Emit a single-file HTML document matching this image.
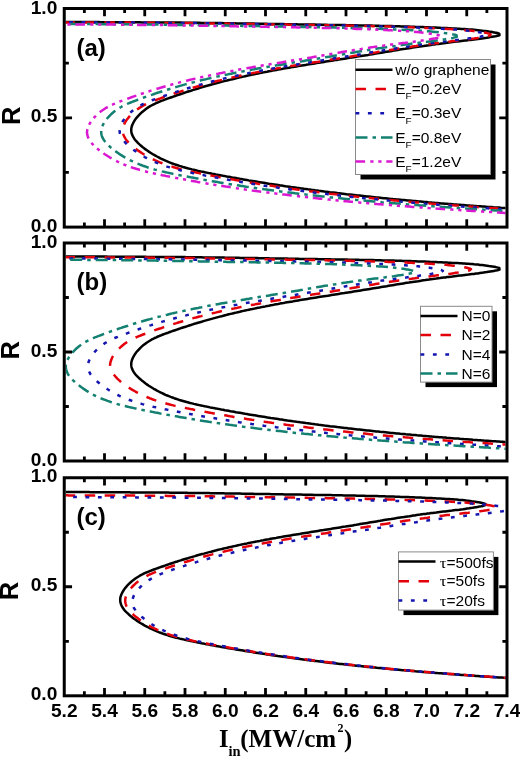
<!DOCTYPE html>
<html><head><meta charset="utf-8"><style>html,body{margin:0;padding:0;background:#fff;}svg{display:block;}</style></head>
<body><svg width="520" height="757" viewBox="0 0 520 757">
<rect width="520" height="757" fill="#fff"/>
<defs>
<clipPath id="c0"><rect x="65.75" y="10.0" width="439.75" height="215.6"/></clipPath>
<clipPath id="c1"><rect x="65.75" y="244.5" width="439.75" height="215.0"/></clipPath>
<clipPath id="c2"><rect x="65.75" y="479.25" width="439.75" height="215.04999999999995"/></clipPath>
</defs>
<g clip-path="url(#c0)" fill="none" stroke-width="2.5" stroke-linejoin="round">
<path d="M44.7,21.9 L46.5,21.9 L48.4,21.9 L50.2,22.0 L52.1,22.0 L54.0,22.0 L55.8,22.0 L57.7,22.0 L59.5,22.0 L61.4,22.0 L63.3,22.0 L65.1,22.0 L67.0,22.0 L68.9,22.0 L70.7,22.0 L72.6,22.0 L74.5,22.1 L76.3,22.1 L78.2,22.1 L80.1,22.1 L81.9,22.1 L83.8,22.1 L85.7,22.1 L87.5,22.1 L89.4,22.1 L91.3,22.1 L93.1,22.1 L95.0,22.1 L96.9,22.1 L98.7,22.1 L100.6,22.2 L102.5,22.2 L104.4,22.2 L106.2,22.2 L108.1,22.2 L110.0,22.2 L111.8,22.2 L113.7,22.2 L115.6,22.2 L117.4,22.2 L119.3,22.2 L121.2,22.2 L123.1,22.3 L124.9,22.3 L126.8,22.3 L128.7,22.3 L130.5,22.3 L132.4,22.3 L134.3,22.3 L136.1,22.3 L138.0,22.3 L139.9,22.3 L141.8,22.4 L143.6,22.4 L145.5,22.4 L147.4,22.4 L149.2,22.4 L151.1,22.4 L153.0,22.4 L154.8,22.4 L156.7,22.5 L158.6,22.5 L160.4,22.5 L162.3,22.5 L164.2,22.5 L166.0,22.5 L167.9,22.5 L169.8,22.6 L171.6,22.6 L173.5,22.6 L175.4,22.6 L177.2,22.6 L179.1,22.6 L181.0,22.6 L182.8,22.7 L184.7,22.7 L186.6,22.7 L188.4,22.7 L190.3,22.7 L192.2,22.8 L194.0,22.8 L195.9,22.8 L197.7,22.8 L199.6,22.8 L201.5,22.9 L203.3,22.9 L205.2,22.9 L207.1,22.9 L208.9,23.0 L210.8,23.0 L212.6,23.0 L214.5,23.0 L216.3,23.1 L218.2,23.1 L220.1,23.1 L221.9,23.1 L223.8,23.2 L225.6,23.2 L227.5,23.2 L229.3,23.2 L231.2,23.3 L233.1,23.3 L234.9,23.3 L236.8,23.4 L238.6,23.4 L240.5,23.4 L242.3,23.4 L244.2,23.5 L246.1,23.5 L247.9,23.5 L249.8,23.6 L251.6,23.6 L253.5,23.6 L255.3,23.7 L257.2,23.7 L259.1,23.7 L260.9,23.8 L262.8,23.8 L264.6,23.8 L266.5,23.8 L268.3,23.9 L270.2,23.9 L272.1,23.9 L273.9,24.0 L275.8,24.0 L277.7,24.0 L279.5,24.1 L281.4,24.1 L283.2,24.1 L285.1,24.2 L287.0,24.2 L288.8,24.2 L290.7,24.3 L292.6,24.3 L294.4,24.3 L296.3,24.3 L298.2,24.4 L300.1,24.4 L301.9,24.4 L303.8,24.5 L305.7,24.5 L307.5,24.5 L309.4,24.6 L311.3,24.6 L313.2,24.6 L315.0,24.6 L316.9,24.7 L318.8,24.7 L320.7,24.7 L322.5,24.8 L324.4,24.8 L326.3,24.8 L328.2,24.9 L330.1,24.9 L331.9,24.9 L333.8,24.9 L335.7,25.0 L337.6,25.0 L339.4,25.0 L341.3,25.1 L343.2,25.1 L345.1,25.1 L347.0,25.2 L348.8,25.2 L350.7,25.2 L352.6,25.3 L354.5,25.3 L356.3,25.3 L358.2,25.4 L360.1,25.4 L362.0,25.5 L363.8,25.5 L365.7,25.5 L367.6,25.6 L369.5,25.6 L371.3,25.6 L373.2,25.7 L375.1,25.7 L376.9,25.8 L378.8,25.8 L380.7,25.9 L382.6,25.9 L384.4,25.9 L386.3,26.0 L388.1,26.0 L390.0,26.1 L391.9,26.1 L393.7,26.2 L395.6,26.2 L397.4,26.3 L399.3,26.3 L401.1,26.4 L403.0,26.4 L404.9,26.5 L406.7,26.6 L408.5,26.6 L410.4,26.7 L412.2,26.7 L414.1,26.8 L415.9,26.9 L417.8,26.9 L419.6,27.0 L421.4,27.1 L423.3,27.1 L425.1,27.2 L426.9,27.3 L428.8,27.3 L430.6,27.4 L432.4,27.5 L434.2,27.6 L436.0,27.6 L437.9,27.7 L439.7,27.8 L441.5,27.9 L443.3,28.0 L445.1,28.0 L446.9,28.1 L448.7,28.2 L450.5,28.3 L452.3,28.4 L454.1,28.5 L455.9,28.6 L457.7,28.7 L459.5,28.8 L461.2,28.9 L463.0,29.0 L464.8,29.1 L466.6,29.2 L468.5,29.4 L470.3,29.5 L472.2,29.6 L474.1,29.8 L476.0,30.0 L478.0,30.2 L480.1,30.4 L482.2,30.7 L483.8,30.9 L485.4,31.1 L487.1,31.3 L488.8,31.6 L490.5,31.8 L492.3,32.1 L494.1,32.4 L495.8,32.7 L497.8,33.1 L499.3,33.6 L499.5,35.2 L497.5,35.7 L495.5,36.2 L493.8,36.5 L492.0,36.8 L490.2,37.1 L488.5,37.4 L486.8,37.7 L485.1,37.9 L483.5,38.2 L481.9,38.4 L479.9,38.7 L477.9,39.0 L475.9,39.2 L474.0,39.5 L472.1,39.7 L470.3,39.9 L468.4,40.1 L466.6,40.4 L464.9,40.6 L463.1,40.8 L461.3,41.0 L459.6,41.2 L457.8,41.4 L456.1,41.6 L454.3,41.8 L452.5,42.0 L450.7,42.3 L448.9,42.5 L447.2,42.7 L445.4,42.9 L443.6,43.2 L441.8,43.4 L440.0,43.7 L438.2,43.9 L436.3,44.1 L434.5,44.4 L432.7,44.6 L430.9,44.9 L429.1,45.2 L427.2,45.4 L425.4,45.7 L423.6,46.0 L421.8,46.2 L419.9,46.5 L418.1,46.8 L416.3,47.0 L414.4,47.3 L412.6,47.6 L410.7,47.9 L408.9,48.2 L407.0,48.5 L405.2,48.8 L403.4,49.0 L401.5,49.3 L399.7,49.6 L397.8,49.9 L396.0,50.2 L394.1,50.5 L392.3,50.9 L390.4,51.2 L388.6,51.5 L386.7,51.8 L384.9,52.1 L383.0,52.4 L381.2,52.7 L379.3,53.0 L377.5,53.3 L375.7,53.6 L373.8,53.9 L372.0,54.2 L370.1,54.5 L368.3,54.9 L366.4,55.2 L364.6,55.5 L362.7,55.8 L360.9,56.1 L359.0,56.3 L357.2,56.6 L355.3,56.9 L353.5,57.2 L351.7,57.5 L349.8,57.8 L348.0,58.1 L346.1,58.4 L344.3,58.7 L342.4,59.0 L340.6,59.3 L338.7,59.6 L336.9,59.9 L335.1,60.1 L333.2,60.4 L331.4,60.7 L329.5,61.0 L327.7,61.3 L325.8,61.6 L324.0,61.9 L322.2,62.2 L320.3,62.5 L318.5,62.8 L316.6,63.1 L314.8,63.4 L313.0,63.7 L311.1,64.0 L309.3,64.2 L307.4,64.6 L305.6,64.9 L303.8,65.2 L301.9,65.5 L300.1,65.8 L298.3,66.1 L296.4,66.4 L294.6,66.7 L292.8,67.0 L290.9,67.3 L289.1,67.7 L287.2,68.0 L285.4,68.3 L283.6,68.6 L281.7,69.0 L279.9,69.3 L278.1,69.6 L276.3,70.0 L274.4,70.3 L272.6,70.6 L270.8,71.0 L268.9,71.3 L267.1,71.7 L265.3,72.0 L263.5,72.4 L261.6,72.8 L259.8,73.1 L258.0,73.5 L256.1,73.9 L254.3,74.3 L252.5,74.6 L250.7,75.0 L248.9,75.4 L247.0,75.8 L245.2,76.2 L243.4,76.6 L241.6,77.0 L239.8,77.4 L237.9,77.9 L236.1,78.3 L234.3,78.7 L232.5,79.2 L230.7,79.6 L228.8,80.0 L227.0,80.5 L225.2,80.9 L223.4,81.4 L221.6,81.9 L219.8,82.3 L218.0,82.8 L216.2,83.3 L214.3,83.8 L212.5,84.3 L210.7,84.8 L208.9,85.3 L207.1,85.8 L205.3,86.3 L203.5,86.8 L201.7,87.4 L199.9,87.9 L198.1,88.5 L196.3,89.0 L194.5,89.6 L192.7,90.1 L190.9,90.7 L189.2,91.2 L187.4,91.8 L185.6,92.4 L183.8,93.0 L182.1,93.6 L180.3,94.2 L178.6,94.8 L176.8,95.3 L175.1,96.0 L173.3,96.6 L171.6,97.2 L169.9,97.8 L168.2,98.4 L166.4,99.0 L164.7,99.6 L163.0,100.3 L161.4,100.9 L159.7,101.6 L158.0,102.3 L156.3,103.0 L154.7,103.8 L153.1,104.6 L151.4,105.5 L149.8,106.4 L148.2,107.4 L146.6,108.5 L145.0,109.7 L143.5,110.9 L141.9,112.2 L140.4,113.6 L139.0,115.1 L137.6,116.6 L136.3,118.1 L135.1,119.7 L134.1,121.4 L133.2,123.0 L132.4,124.7 L131.8,126.3 L131.4,128.0 L131.2,129.6 L131.3,131.3 L131.5,132.9 L132.0,134.4 L132.7,135.9 L133.5,137.4 L134.4,138.9 L135.5,140.3 L136.8,141.7 L138.1,143.1 L139.5,144.4 L141.0,145.7 L142.5,147.0 L144.1,148.2 L145.6,149.4 L147.2,150.5 L148.8,151.6 L150.5,152.7 L152.1,153.7 L153.7,154.7 L155.4,155.6 L157.0,156.5 L158.7,157.4 L160.4,158.3 L162.1,159.1 L163.8,159.9 L165.5,160.7 L167.2,161.4 L168.9,162.1 L170.7,162.8 L172.4,163.5 L174.2,164.1 L175.9,164.7 L177.7,165.3 L179.5,165.9 L181.2,166.4 L183.0,167.0 L184.8,167.5 L186.6,168.0 L188.4,168.5 L190.2,168.9 L192.0,169.4 L193.8,169.8 L195.6,170.2 L197.4,170.7 L199.3,171.1 L201.1,171.5 L202.9,171.8 L204.7,172.2 L206.6,172.6 L208.4,173.0 L210.2,173.3 L212.1,173.7 L213.9,174.0 L215.7,174.4 L217.6,174.7 L219.4,175.1 L221.2,175.4 L223.1,175.8 L224.9,176.1 L226.7,176.5 L228.6,176.8 L230.4,177.1 L232.2,177.5 L234.1,177.8 L235.9,178.1 L237.7,178.4 L239.6,178.8 L241.4,179.1 L243.3,179.4 L245.1,179.7 L246.9,180.0 L248.8,180.4 L250.6,180.7 L252.4,181.0 L254.3,181.3 L256.1,181.6 L258.0,181.9 L259.8,182.2 L261.6,182.5 L263.5,182.8 L265.3,183.1 L267.2,183.4 L269.0,183.7 L270.9,183.9 L272.7,184.2 L274.5,184.5 L276.4,184.8 L278.2,185.1 L280.1,185.4 L281.9,185.6 L283.8,185.9 L285.6,186.2 L287.4,186.4 L289.3,186.7 L291.1,187.0 L293.0,187.2 L294.8,187.5 L296.7,187.8 L298.5,188.0 L300.4,188.3 L302.2,188.5 L304.1,188.8 L305.9,189.0 L307.8,189.3 L309.6,189.5 L311.4,189.8 L313.3,190.0 L315.1,190.3 L317.0,190.5 L318.8,190.8 L320.7,191.0 L322.5,191.2 L324.4,191.5 L326.2,191.7 L328.1,191.9 L329.9,192.2 L331.8,192.4 L333.6,192.6 L335.5,192.8 L337.3,193.1 L339.2,193.3 L341.0,193.5 L342.9,193.7 L344.7,193.9 L346.6,194.2 L348.4,194.4 L350.3,194.6 L352.2,194.8 L354.0,195.0 L355.9,195.2 L357.7,195.4 L359.6,195.6 L361.4,195.8 L363.3,196.0 L365.1,196.2 L367.0,196.4 L368.8,196.6 L370.7,196.8 L372.5,197.0 L374.4,197.2 L376.2,197.4 L378.1,197.6 L380.0,197.8 L381.8,198.0 L383.7,198.2 L385.5,198.3 L387.4,198.5 L389.2,198.7 L391.1,198.9 L392.9,199.1 L394.8,199.2 L396.7,199.4 L398.5,199.6 L400.4,199.8 L402.2,200.0 L404.1,200.1 L405.9,200.3 L407.8,200.5 L409.7,200.6 L411.5,200.8 L413.4,201.0 L415.2,201.1 L417.1,201.3 L418.9,201.5 L420.8,201.6 L422.7,201.8 L424.5,202.0 L426.4,202.1 L428.2,202.3 L430.1,202.4 L432.0,202.6 L433.8,202.7 L435.7,202.9 L437.5,203.0 L439.4,203.2 L441.3,203.4 L443.1,203.5 L445.0,203.7 L446.8,203.8 L448.7,204.0 L450.6,204.1 L452.4,204.2 L454.3,204.4 L456.1,204.5 L458.0,204.7 L459.9,204.8 L461.7,205.0 L463.6,205.1 L465.4,205.2 L467.3,205.4 L469.2,205.5 L471.0,205.7 L472.9,205.8 L474.7,205.9 L476.6,206.1 L478.5,206.2 L480.3,206.3 L482.2,206.5 L484.0,206.6 L485.9,206.7 L487.8,206.9 L489.6,207.0 L491.5,207.1 L493.4,207.3 L495.2,207.4 L497.1,207.5 L498.9,207.6 L500.8,207.8 L502.7,207.9 L504.5,208.0 L506.4,208.1 L508.3,208.3 L510.1,208.4 L512.0,208.5 L513.8,208.6 L515.7,208.8 L517.6,208.9 L519.4,209.0 L521.3,209.1 L523.2,209.2 L525.0,209.4 L526.9,209.5 L526.9,209.5" stroke="#000000"/>
<path d="M44.4,22.3 L46.3,22.3 L48.1,22.3 L50.0,22.3 L51.8,22.3 L53.7,22.3 L55.5,22.3 L57.4,22.3 L59.2,22.3 L61.1,22.3 L62.9,22.3 L64.8,22.4 L66.6,22.4 L68.5,22.4 L70.3,22.4 L72.2,22.4 L74.1,22.4 L75.9,22.4 L77.8,22.4 L79.6,22.4 L81.5,22.4 L83.3,22.4 L85.2,22.4 L87.1,22.4 L88.9,22.4 L90.8,22.5 L92.6,22.5 L94.5,22.5 L96.3,22.5 L98.2,22.5 L100.1,22.5 L101.9,22.5 L103.8,22.5 L105.6,22.5 L107.5,22.5 L109.3,22.5 L111.2,22.5 L113.1,22.6 L114.9,22.6 L116.8,22.6 L118.6,22.6 L120.5,22.6 L122.4,22.6 L124.2,22.6 L126.1,22.6 L127.9,22.6 L129.8,22.6 L131.7,22.7 L133.5,22.7 L135.4,22.7 L137.2,22.7 L139.1,22.7 L140.9,22.7 L142.8,22.7 L144.7,22.7 L146.5,22.7 L148.4,22.8 L150.2,22.8 L152.1,22.8 L153.9,22.8 L155.8,22.8 L157.7,22.8 L159.5,22.8 L161.4,22.9 L163.2,22.9 L165.1,22.9 L166.9,22.9 L168.8,22.9 L170.6,22.9 L172.5,22.9 L174.3,23.0 L176.2,23.0 L178.1,23.0 L179.9,23.0 L181.8,23.0 L183.6,23.1 L185.5,23.1 L187.3,23.1 L189.2,23.1 L191.0,23.1 L192.9,23.2 L194.7,23.2 L196.6,23.2 L198.4,23.2 L200.3,23.3 L202.1,23.3 L203.9,23.3 L205.8,23.3 L207.6,23.4 L209.5,23.4 L211.3,23.4 L213.2,23.4 L215.0,23.5 L216.9,23.5 L218.7,23.5 L220.6,23.5 L222.4,23.6 L224.2,23.6 L226.1,23.6 L227.9,23.7 L229.8,23.7 L231.6,23.7 L233.5,23.7 L235.3,23.8 L237.2,23.8 L239.0,23.8 L240.9,23.9 L242.7,23.9 L244.5,23.9 L246.4,23.9 L248.2,24.0 L250.1,24.0 L251.9,24.0 L253.8,24.1 L255.6,24.1 L257.5,24.1 L259.3,24.2 L261.2,24.2 L263.0,24.2 L264.9,24.3 L266.7,24.3 L268.6,24.3 L270.4,24.4 L272.3,24.4 L274.1,24.4 L276.0,24.4 L277.8,24.5 L279.7,24.5 L281.5,24.5 L283.4,24.6 L285.2,24.6 L287.1,24.6 L288.9,24.7 L290.8,24.7 L292.7,24.7 L294.5,24.8 L296.4,24.8 L298.2,24.8 L300.1,24.8 L302.0,24.9 L303.8,24.9 L305.7,24.9 L307.6,25.0 L309.4,25.0 L311.3,25.0 L313.1,25.1 L315.0,25.1 L316.9,25.1 L318.7,25.1 L320.6,25.2 L322.5,25.2 L324.3,25.2 L326.2,25.3 L328.1,25.3 L329.9,25.3 L331.8,25.4 L333.7,25.4 L335.5,25.4 L337.4,25.5 L339.3,25.5 L341.1,25.5 L343.0,25.6 L344.9,25.6 L346.7,25.6 L348.6,25.7 L350.5,25.7 L352.3,25.7 L354.2,25.8 L356.0,25.8 L357.9,25.9 L359.8,25.9 L361.6,25.9 L363.5,26.0 L365.3,26.0 L367.2,26.1 L369.1,26.1 L370.9,26.1 L372.8,26.2 L374.6,26.2 L376.5,26.3 L378.3,26.3 L380.2,26.4 L382.0,26.4 L383.9,26.5 L385.7,26.5 L387.6,26.6 L389.4,26.6 L391.3,26.7 L393.1,26.7 L394.9,26.8 L396.8,26.8 L398.6,26.9 L400.4,27.0 L402.3,27.0 L404.1,27.1 L405.9,27.1 L407.8,27.2 L409.6,27.3 L411.4,27.3 L413.2,27.4 L415.1,27.5 L416.9,27.5 L418.7,27.6 L420.5,27.7 L422.3,27.7 L424.1,27.8 L425.9,27.9 L427.7,28.0 L429.5,28.1 L431.3,28.1 L433.1,28.2 L434.9,28.3 L436.7,28.4 L438.5,28.5 L440.3,28.6 L442.1,28.7 L443.9,28.7 L445.7,28.8 L447.4,28.9 L449.2,29.0 L451.0,29.1 L452.7,29.2 L454.5,29.3 L456.3,29.5 L458.1,29.6 L459.9,29.7 L461.8,29.8 L463.6,30.0 L465.5,30.2 L467.5,30.4 L469.5,30.6 L471.5,30.8 L473.6,31.0 L475.2,31.3 L476.8,31.5 L478.5,31.7 L480.2,32.0 L481.9,32.2 L483.7,32.5 L485.4,32.8 L487.0,33.1 L488.9,33.6 L490.6,34.1 L489.9,35.6 L488.2,36.1 L486.2,36.5 L484.5,36.8 L482.7,37.1 L480.9,37.4 L479.2,37.7 L477.5,38.0 L475.8,38.2 L474.2,38.5 L472.1,38.8 L470.1,39.1 L468.1,39.3 L466.2,39.6 L464.3,39.8 L462.4,40.1 L460.6,40.3 L458.8,40.5 L457.0,40.7 L455.2,40.9 L453.5,41.1 L451.7,41.3 L450.0,41.6 L448.2,41.8 L446.4,42.0 L444.7,42.2 L442.9,42.4 L441.1,42.6 L439.3,42.9 L437.6,43.1 L435.8,43.3 L434.0,43.6 L432.2,43.8 L430.4,44.0 L428.6,44.3 L426.8,44.5 L425.0,44.8 L423.2,45.0 L421.3,45.3 L419.5,45.5 L417.7,45.8 L415.9,46.1 L414.1,46.3 L412.2,46.6 L410.4,46.9 L408.6,47.1 L406.7,47.4 L404.9,47.7 L403.1,48.0 L401.2,48.3 L399.4,48.5 L397.6,48.8 L395.7,49.1 L393.9,49.4 L392.1,49.7 L390.2,50.0 L388.4,50.3 L386.5,50.6 L384.7,50.9 L382.8,51.2 L381.0,51.5 L379.2,51.8 L377.3,52.1 L375.5,52.5 L373.6,52.8 L371.8,53.1 L370.0,53.4 L368.1,53.7 L366.3,54.0 L364.4,54.3 L362.6,54.6 L360.8,54.9 L358.9,55.2 L357.1,55.5 L355.2,55.8 L353.4,56.1 L351.6,56.4 L349.7,56.7 L347.9,57.0 L346.0,57.3 L344.2,57.6 L342.4,57.9 L340.5,58.2 L338.7,58.5 L336.8,58.8 L335.0,59.1 L333.2,59.3 L331.3,59.6 L329.5,59.9 L327.7,60.2 L325.8,60.5 L324.0,60.8 L322.1,61.1 L320.3,61.4 L318.5,61.7 L316.6,61.9 L314.8,62.2 L313.0,62.5 L311.1,62.8 L309.3,63.1 L307.5,63.4 L305.6,63.7 L303.8,64.0 L302.0,64.3 L300.1,64.6 L298.3,64.9 L296.5,65.2 L294.6,65.5 L292.8,65.8 L291.0,66.1 L289.2,66.4 L287.3,66.7 L285.5,67.1 L283.7,67.4 L281.8,67.7 L280.0,68.0 L278.2,68.3 L276.4,68.6 L274.5,69.0 L272.7,69.3 L270.9,69.6 L269.1,70.0 L267.2,70.3 L265.4,70.7 L263.6,71.0 L261.8,71.3 L259.9,71.7 L258.1,72.0 L256.3,72.4 L254.5,72.8 L252.6,73.1 L250.8,73.5 L249.0,73.9 L247.2,74.2 L245.4,74.6 L243.5,75.0 L241.7,75.4 L239.9,75.8 L238.1,76.2 L236.3,76.6 L234.5,77.0 L232.7,77.4 L230.8,77.8 L229.0,78.2 L227.2,78.7 L225.4,79.1 L223.6,79.5 L221.8,80.0 L220.0,80.4 L218.2,80.8 L216.3,81.3 L214.5,81.8 L212.7,82.2 L210.9,82.7 L209.1,83.2 L207.3,83.7 L205.5,84.2 L203.7,84.7 L201.9,85.2 L200.1,85.7 L198.3,86.2 L196.5,86.7 L194.7,87.2 L192.9,87.7 L191.1,88.3 L189.3,88.8 L187.5,89.4 L185.7,89.9 L183.9,90.5 L182.1,91.0 L180.4,91.6 L178.6,92.2 L176.8,92.8 L175.1,93.3 L173.3,93.9 L171.5,94.5 L169.8,95.1 L168.0,95.7 L166.3,96.3 L164.6,96.9 L162.8,97.5 L161.1,98.1 L159.4,98.8 L157.7,99.4 L156.0,100.0 L154.3,100.6 L152.6,101.3 L150.9,102.0 L149.3,102.7 L147.6,103.4 L146.0,104.2 L144.3,105.0 L142.7,105.9 L141.1,106.9 L139.5,107.9 L137.9,109.0 L136.3,110.1 L134.7,111.4 L133.2,112.7 L131.7,114.1 L130.2,115.6 L128.9,117.1 L127.6,118.7 L126.4,120.3 L125.4,121.9 L124.5,123.6 L123.7,125.2 L123.2,126.9 L122.8,128.5 L122.6,130.2 L122.7,131.8 L123.0,133.3 L123.5,134.9 L124.1,136.4 L125.0,137.9 L125.9,139.4 L127.0,140.8 L128.3,142.2 L129.6,143.5 L131.0,144.8 L132.4,146.1 L133.9,147.4 L135.5,148.6 L137.0,149.7 L138.6,150.9 L140.1,151.9 L141.7,153.0 L143.3,154.0 L144.9,155.0 L146.6,155.9 L148.2,156.8 L149.9,157.7 L151.5,158.6 L153.2,159.4 L154.8,160.2 L156.5,160.9 L158.2,161.7 L159.9,162.4 L161.6,163.0 L163.4,163.7 L165.1,164.3 L166.8,164.9 L168.6,165.5 L170.3,166.1 L172.1,166.6 L173.8,167.2 L175.6,167.7 L177.3,168.2 L179.1,168.7 L180.9,169.1 L182.7,169.6 L184.5,170.0 L186.3,170.4 L188.1,170.8 L189.9,171.3 L191.7,171.6 L193.5,172.0 L195.3,172.4 L197.1,172.8 L198.9,173.1 L200.7,173.5 L202.5,173.9 L204.3,174.2 L206.1,174.6 L207.9,174.9 L209.8,175.3 L211.6,175.6 L213.4,176.0 L215.2,176.3 L217.0,176.6 L218.8,177.0 L220.6,177.3 L222.5,177.7 L224.3,178.0 L226.1,178.3 L227.9,178.6 L229.7,179.0 L231.5,179.3 L233.3,179.6 L235.2,179.9 L237.0,180.2 L238.8,180.6 L240.6,180.9 L242.4,181.2 L244.2,181.5 L246.1,181.8 L247.9,182.1 L249.7,182.4 L251.5,182.7 L253.3,183.0 L255.2,183.3 L257.0,183.6 L258.8,183.9 L260.6,184.1 L262.4,184.4 L264.3,184.7 L266.1,185.0 L267.9,185.3 L269.7,185.5 L271.6,185.8 L273.4,186.1 L275.2,186.4 L277.0,186.6 L278.9,186.9 L280.7,187.2 L282.5,187.4 L284.3,187.7 L286.2,187.9 L288.0,188.2 L289.8,188.5 L291.6,188.7 L293.5,189.0 L295.3,189.2 L297.1,189.5 L298.9,189.7 L300.8,190.0 L302.6,190.2 L304.4,190.4 L306.2,190.7 L308.1,190.9 L309.9,191.2 L311.7,191.4 L313.6,191.6 L315.4,191.9 L317.2,192.1 L319.0,192.3 L320.9,192.5 L322.7,192.8 L324.5,193.0 L326.4,193.2 L328.2,193.4 L330.0,193.7 L331.9,193.9 L333.7,194.1 L335.5,194.3 L337.4,194.5 L339.2,194.7 L341.0,194.9 L342.8,195.1 L344.7,195.3 L346.5,195.6 L348.3,195.8 L350.2,196.0 L352.0,196.2 L353.8,196.4 L355.7,196.6 L357.5,196.8 L359.3,196.9 L361.2,197.1 L363.0,197.3 L364.8,197.5 L366.7,197.7 L368.5,197.9 L370.4,198.1 L372.2,198.3 L374.0,198.5 L375.9,198.6 L377.7,198.8 L379.5,199.0 L381.4,199.2 L383.2,199.4 L385.0,199.5 L386.9,199.7 L388.7,199.9 L390.6,200.1 L392.4,200.2 L394.2,200.4 L396.1,200.6 L397.9,200.7 L399.7,200.9 L401.6,201.1 L403.4,201.2 L405.3,201.4 L407.1,201.6 L408.9,201.7 L410.8,201.9 L412.6,202.1 L414.4,202.2 L416.3,202.4 L418.1,202.5 L420.0,202.7 L421.8,202.8 L423.6,203.0 L425.5,203.1 L427.3,203.3 L429.2,203.4 L431.0,203.6 L432.8,203.7 L434.7,203.9 L436.5,204.0 L438.4,204.2 L440.2,204.3 L442.0,204.5 L443.9,204.6 L445.7,204.8 L447.6,204.9 L449.4,205.0 L451.3,205.2 L453.1,205.3 L454.9,205.5 L456.8,205.6 L458.6,205.7 L460.5,205.9 L462.3,206.0 L464.1,206.1 L466.0,206.3 L467.8,206.4 L469.7,206.5 L471.5,206.7 L473.4,206.8 L475.2,206.9 L477.0,207.1 L478.9,207.2 L480.7,207.3 L482.6,207.4 L484.4,207.6 L486.2,207.7 L488.1,207.8 L489.9,208.0 L491.8,208.1 L493.6,208.2 L495.5,208.3 L497.3,208.4 L499.1,208.6 L501.0,208.7 L502.8,208.8 L504.7,208.9 L506.5,209.1 L508.4,209.2 L510.2,209.3 L512.0,209.4 L513.9,209.5 L515.7,209.7 L517.6,209.8 L519.4,209.9 L521.3,210.0 L523.1,210.1 L524.9,210.2 L526.8,210.4 L526.8,210.4" stroke="#e3000b" stroke-dasharray="10.5 9.5"/>
<path d="M44.3,22.2 L46.1,22.2 L47.9,22.2 L49.8,22.2 L51.6,22.2 L53.5,22.2 L55.3,22.2 L57.2,22.2 L59.0,22.2 L60.9,22.2 L62.7,22.3 L64.6,22.3 L66.4,22.3 L68.3,22.3 L70.1,22.3 L72.0,22.3 L73.8,22.3 L75.7,22.3 L77.5,22.3 L79.4,22.3 L81.2,22.3 L83.1,22.3 L84.9,22.3 L86.8,22.3 L88.6,22.4 L90.5,22.4 L92.3,22.4 L94.2,22.4 L96.0,22.4 L97.9,22.4 L99.8,22.4 L101.6,22.4 L103.5,22.4 L105.3,22.4 L107.2,22.4 L109.0,22.4 L110.9,22.5 L112.7,22.5 L114.6,22.5 L116.4,22.5 L118.3,22.5 L120.1,22.5 L122.0,22.5 L123.8,22.5 L125.7,22.5 L127.6,22.5 L129.4,22.6 L131.3,22.6 L133.1,22.6 L135.0,22.6 L136.8,22.6 L138.7,22.6 L140.5,22.6 L142.4,22.6 L144.2,22.6 L146.1,22.7 L147.9,22.7 L149.8,22.7 L151.6,22.7 L153.5,22.7 L155.3,22.7 L157.2,22.7 L159.0,22.8 L160.9,22.8 L162.7,22.8 L164.6,22.8 L166.4,22.8 L168.3,22.8 L170.1,22.9 L172.0,22.9 L173.8,22.9 L175.7,22.9 L177.5,22.9 L179.4,22.9 L181.2,23.0 L183.1,23.0 L184.9,23.0 L186.7,23.0 L188.6,23.0 L190.4,23.1 L192.3,23.1 L194.1,23.1 L196.0,23.1 L197.8,23.2 L199.7,23.2 L201.5,23.2 L203.3,23.2 L205.2,23.3 L207.0,23.3 L208.9,23.3 L210.7,23.3 L212.5,23.4 L214.4,23.4 L216.2,23.4 L218.1,23.4 L219.9,23.5 L221.7,23.5 L223.6,23.5 L225.4,23.6 L227.3,23.6 L229.1,23.6 L230.9,23.6 L232.8,23.7 L234.6,23.7 L236.4,23.7 L238.3,23.8 L240.1,23.8 L242.0,23.8 L243.8,23.9 L245.6,23.9 L247.5,23.9 L249.3,23.9 L251.2,24.0 L253.0,24.0 L254.9,24.0 L256.7,24.1 L258.5,24.1 L260.4,24.1 L262.2,24.2 L264.1,24.2 L265.9,24.2 L267.8,24.3 L269.6,24.3 L271.5,24.3 L273.3,24.4 L275.2,24.4 L277.0,24.4 L278.8,24.4 L280.7,24.5 L282.5,24.5 L284.4,24.5 L286.3,24.6 L288.1,24.6 L290.0,24.6 L291.8,24.7 L293.7,24.7 L295.5,24.7 L297.4,24.7 L299.2,24.8 L301.1,24.8 L303.0,24.8 L304.8,24.9 L306.7,24.9 L308.5,24.9 L310.4,25.0 L312.3,25.0 L314.1,25.0 L316.0,25.0 L317.8,25.1 L319.7,25.1 L321.6,25.1 L323.4,25.2 L325.3,25.2 L327.1,25.2 L329.0,25.3 L330.9,25.3 L332.7,25.3 L334.6,25.4 L336.4,25.4 L338.3,25.4 L340.2,25.5 L342.0,25.5 L343.9,25.5 L345.7,25.6 L347.6,25.6 L349.5,25.6 L351.3,25.7 L353.2,25.7 L355.0,25.8 L356.9,25.8 L358.7,25.8 L360.6,25.9 L362.4,25.9 L364.3,26.0 L366.1,26.0 L368.0,26.0 L369.8,26.1 L371.7,26.1 L373.5,26.2 L375.4,26.2 L377.2,26.3 L379.1,26.3 L380.9,26.4 L382.7,26.4 L384.6,26.5 L386.4,26.5 L388.3,26.6 L390.1,26.6 L391.9,26.7 L393.8,26.7 L395.6,26.8 L397.4,26.9 L399.2,26.9 L401.1,27.0 L402.9,27.0 L404.7,27.1 L406.5,27.2 L408.4,27.2 L410.2,27.3 L412.0,27.4 L413.8,27.4 L415.6,27.5 L417.4,27.6 L419.2,27.7 L421.0,27.7 L422.8,27.8 L424.6,27.9 L426.4,28.0 L428.2,28.1 L430.0,28.1 L431.8,28.2 L433.6,28.3 L435.4,28.4 L437.2,28.5 L438.9,28.6 L440.7,28.7 L442.5,28.8 L444.3,28.9 L446.0,29.0 L447.8,29.1 L449.6,29.2 L451.3,29.3 L453.1,29.4 L454.9,29.5 L456.7,29.6 L458.6,29.8 L460.5,30.0 L462.4,30.1 L464.3,30.3 L466.3,30.5 L468.4,30.8 L470.5,31.0 L472.1,31.3 L473.8,31.5 L475.4,31.7 L477.2,32.0 L478.9,32.3 L480.7,32.6 L482.3,32.9 L484.3,33.3 L485.9,33.7 L486.0,35.3 L484.0,35.9 L482.0,36.3 L480.3,36.7 L478.5,37.0 L476.8,37.3 L475.0,37.6 L473.4,37.8 L471.7,38.1 L470.1,38.3 L468.0,38.6 L466.0,38.9 L464.0,39.2 L462.1,39.4 L460.2,39.7 L458.3,39.9 L456.5,40.1 L454.7,40.4 L452.9,40.6 L451.1,40.8 L449.4,41.0 L447.6,41.2 L445.9,41.4 L444.1,41.6 L442.4,41.8 L440.6,42.0 L438.9,42.3 L437.1,42.5 L435.3,42.7 L433.5,42.9 L431.8,43.2 L430.0,43.4 L428.2,43.6 L426.4,43.9 L424.6,44.1 L422.8,44.4 L421.0,44.6 L419.2,44.9 L417.4,45.1 L415.6,45.4 L413.8,45.6 L411.9,45.9 L410.1,46.2 L408.3,46.4 L406.5,46.7 L404.6,47.0 L402.8,47.3 L401.0,47.5 L399.2,47.8 L397.3,48.1 L395.5,48.4 L393.7,48.7 L391.8,49.0 L390.0,49.3 L388.2,49.6 L386.3,49.9 L384.5,50.2 L382.7,50.5 L380.8,50.8 L379.0,51.1 L377.2,51.4 L375.3,51.7 L373.5,52.0 L371.6,52.3 L369.8,52.6 L368.0,52.9 L366.1,53.2 L364.3,53.5 L362.5,53.8 L360.6,54.2 L358.8,54.5 L357.0,54.8 L355.1,55.1 L353.3,55.4 L351.5,55.7 L349.6,56.0 L347.8,56.3 L346.0,56.6 L344.1,56.9 L342.3,57.2 L340.5,57.4 L338.6,57.7 L336.8,58.0 L335.0,58.3 L333.1,58.6 L331.3,58.9 L329.5,59.2 L327.6,59.5 L325.8,59.8 L324.0,60.1 L322.1,60.4 L320.3,60.6 L318.5,60.9 L316.6,61.2 L314.8,61.5 L313.0,61.8 L311.2,62.1 L309.3,62.4 L307.5,62.7 L305.7,63.0 L303.8,63.3 L302.0,63.6 L300.2,63.9 L298.4,64.2 L296.5,64.5 L294.7,64.8 L292.9,65.1 L291.1,65.4 L289.2,65.7 L287.4,66.0 L285.6,66.3 L283.8,66.6 L281.9,66.9 L280.1,67.2 L278.3,67.6 L276.5,67.9 L274.6,68.2 L272.8,68.5 L271.0,68.9 L269.2,69.2 L267.4,69.5 L265.5,69.9 L263.7,70.2 L261.9,70.5 L260.1,70.9 L258.3,71.2 L256.4,71.6 L254.6,71.9 L252.8,72.3 L251.0,72.7 L249.2,73.0 L247.4,73.4 L245.5,73.8 L243.7,74.1 L241.9,74.5 L240.1,74.9 L238.3,75.3 L236.5,75.7 L234.7,76.1 L232.9,76.5 L231.1,76.9 L229.2,77.3 L227.4,77.7 L225.6,78.1 L223.8,78.6 L222.0,79.0 L220.2,79.4 L218.4,79.9 L216.6,80.3 L214.8,80.8 L213.0,81.2 L211.2,81.7 L209.4,82.1 L207.6,82.6 L205.8,83.1 L204.0,83.6 L202.2,84.1 L200.4,84.6 L198.6,85.1 L196.8,85.6 L195.0,86.1 L193.2,86.6 L191.4,87.2 L189.6,87.7 L187.8,88.2 L186.0,88.8 L184.2,89.3 L182.4,89.9 L180.7,90.4 L178.9,91.0 L177.1,91.6 L175.3,92.2 L173.6,92.7 L171.8,93.3 L170.1,93.9 L168.3,94.5 L166.6,95.1 L164.8,95.7 L163.1,96.3 L161.4,96.9 L159.6,97.5 L157.9,98.1 L156.2,98.8 L154.5,99.4 L152.8,100.0 L151.1,100.7 L149.4,101.3 L147.8,102.0 L146.1,102.7 L144.5,103.5 L142.8,104.2 L141.2,105.1 L139.6,106.0 L138.0,106.9 L136.4,107.9 L134.8,109.0 L133.2,110.2 L131.6,111.5 L130.1,112.8 L128.6,114.2 L127.1,115.7 L125.8,117.2 L124.5,118.8 L123.3,120.4 L122.3,122.1 L121.4,123.7 L120.7,125.4 L120.1,127.1 L119.7,128.7 L119.6,130.4 L119.7,132.0 L119.9,133.6 L120.4,135.1 L121.1,136.7 L121.9,138.2 L122.9,139.6 L124.0,141.1 L125.2,142.5 L126.5,143.8 L127.9,145.2 L129.4,146.5 L130.9,147.7 L132.4,148.9 L133.9,150.1 L135.5,151.2 L137.1,152.3 L138.6,153.4 L140.2,154.4 L141.9,155.4 L143.5,156.3 L145.1,157.3 L146.7,158.1 L148.4,159.0 L150.1,159.8 L151.7,160.6 L153.4,161.4 L155.1,162.1 L156.8,162.8 L158.5,163.5 L160.2,164.2 L161.9,164.8 L163.7,165.4 L165.4,166.0 L167.1,166.6 L168.9,167.1 L170.7,167.6 L172.4,168.2 L174.2,168.6 L175.9,169.1 L177.7,169.6 L179.5,170.0 L181.3,170.5 L183.1,170.9 L184.9,171.3 L186.7,171.7 L188.5,172.1 L190.3,172.5 L192.1,172.9 L193.9,173.2 L195.7,173.6 L197.5,174.0 L199.3,174.3 L201.1,174.7 L202.9,175.0 L204.7,175.4 L206.5,175.7 L208.3,176.1 L210.1,176.4 L211.9,176.8 L213.7,177.1 L215.5,177.4 L217.4,177.8 L219.2,178.1 L221.0,178.4 L222.8,178.8 L224.6,179.1 L226.4,179.4 L228.2,179.7 L230.0,180.1 L231.8,180.4 L233.7,180.7 L235.5,181.0 L237.3,181.3 L239.1,181.6 L240.9,181.9 L242.7,182.2 L244.5,182.5 L246.4,182.8 L248.2,183.1 L250.0,183.4 L251.8,183.7 L253.6,184.0 L255.4,184.3 L257.2,184.6 L259.1,184.9 L260.9,185.2 L262.7,185.4 L264.5,185.7 L266.3,186.0 L268.1,186.3 L270.0,186.5 L271.8,186.8 L273.6,187.1 L275.4,187.3 L277.2,187.6 L279.1,187.9 L280.9,188.1 L282.7,188.4 L284.5,188.6 L286.3,188.9 L288.2,189.1 L290.0,189.4 L291.8,189.6 L293.6,189.9 L295.5,190.1 L297.3,190.4 L299.1,190.6 L300.9,190.8 L302.7,191.1 L304.6,191.3 L306.4,191.6 L308.2,191.8 L310.0,192.0 L311.9,192.2 L313.7,192.5 L315.5,192.7 L317.3,192.9 L319.2,193.2 L321.0,193.4 L322.8,193.6 L324.6,193.8 L326.5,194.0 L328.3,194.2 L330.1,194.5 L331.9,194.7 L333.8,194.9 L335.6,195.1 L337.4,195.3 L339.3,195.5 L341.1,195.7 L342.9,195.9 L344.7,196.1 L346.6,196.3 L348.4,196.5 L350.2,196.7 L352.0,196.9 L353.9,197.1 L355.7,197.3 L357.5,197.5 L359.4,197.7 L361.2,197.9 L363.0,198.1 L364.9,198.2 L366.7,198.4 L368.5,198.6 L370.3,198.8 L372.2,199.0 L374.0,199.2 L375.8,199.3 L377.7,199.5 L379.5,199.7 L381.3,199.9 L383.2,200.0 L385.0,200.2 L386.8,200.4 L388.7,200.6 L390.5,200.7 L392.3,200.9 L394.2,201.1 L396.0,201.2 L397.8,201.4 L399.7,201.6 L401.5,201.7 L403.3,201.9 L405.2,202.0 L407.0,202.2 L408.8,202.4 L410.7,202.5 L412.5,202.7 L414.3,202.8 L416.2,203.0 L418.0,203.1 L419.8,203.3 L421.7,203.4 L423.5,203.6 L425.3,203.7 L427.2,203.9 L429.0,204.0 L430.8,204.2 L432.7,204.3 L434.5,204.5 L436.4,204.6 L438.2,204.8 L440.0,204.9 L441.9,205.0 L443.7,205.2 L445.5,205.3 L447.4,205.5 L449.2,205.6 L451.0,205.7 L452.9,205.9 L454.7,206.0 L456.6,206.2 L458.4,206.3 L460.2,206.4 L462.1,206.6 L463.9,206.7 L465.7,206.8 L467.6,206.9 L469.4,207.1 L471.3,207.2 L473.1,207.3 L474.9,207.5 L476.8,207.6 L478.6,207.7 L480.4,207.8 L482.3,208.0 L484.1,208.1 L486.0,208.2 L487.8,208.3 L489.6,208.5 L491.5,208.6 L493.3,208.7 L495.1,208.8 L497.0,208.9 L498.8,209.1 L500.7,209.2 L502.5,209.3 L504.3,209.4 L506.2,209.5 L508.0,209.7 L509.8,209.8 L511.7,209.9 L513.5,210.0 L515.4,210.1 L517.2,210.2 L519.0,210.4 L520.9,210.5 L522.7,210.6 L524.6,210.7 L526.4,210.8 L526.9,210.8" stroke="#1515b0" stroke-dasharray="3.8 8.6"/>
<path d="M44.6,23.9 L46.5,23.9 L48.3,23.9 L50.1,23.9 L51.9,23.9 L53.7,23.9 L55.5,23.9 L57.3,24.0 L59.2,24.0 L61.0,24.0 L62.8,24.0 L64.6,24.0 L66.4,24.0 L68.2,24.0 L70.0,24.0 L71.9,24.0 L73.7,24.0 L75.5,24.0 L77.3,24.0 L79.1,24.0 L80.9,24.0 L82.8,24.1 L84.6,24.1 L86.4,24.1 L88.2,24.1 L90.0,24.1 L91.8,24.1 L93.6,24.1 L95.5,24.1 L97.3,24.1 L99.1,24.1 L100.9,24.1 L102.7,24.2 L104.5,24.2 L106.4,24.2 L108.2,24.2 L110.0,24.2 L111.8,24.2 L113.6,24.2 L115.4,24.2 L117.3,24.2 L119.1,24.3 L120.9,24.3 L122.7,24.3 L124.5,24.3 L126.3,24.3 L128.1,24.3 L130.0,24.3 L131.8,24.4 L133.6,24.4 L135.4,24.4 L137.2,24.4 L139.0,24.4 L140.8,24.4 L142.6,24.4 L144.5,24.5 L146.3,24.5 L148.1,24.5 L149.9,24.5 L151.7,24.5 L153.5,24.5 L155.3,24.6 L157.1,24.6 L158.9,24.6 L160.7,24.6 L162.6,24.6 L164.4,24.7 L166.2,24.7 L168.0,24.7 L169.8,24.7 L171.6,24.8 L173.4,24.8 L175.2,24.8 L177.0,24.8 L178.8,24.9 L180.6,24.9 L182.4,24.9 L184.2,24.9 L186.0,25.0 L187.8,25.0 L189.6,25.0 L191.4,25.0 L193.2,25.1 L195.0,25.1 L196.9,25.1 L198.7,25.1 L200.5,25.2 L202.3,25.2 L204.1,25.2 L205.9,25.3 L207.7,25.3 L209.5,25.3 L211.3,25.3 L213.1,25.4 L214.9,25.4 L216.7,25.4 L218.5,25.5 L220.3,25.5 L222.1,25.5 L223.9,25.6 L225.7,25.6 L227.5,25.6 L229.3,25.7 L231.1,25.7 L232.9,25.7 L234.7,25.7 L236.6,25.8 L238.4,25.8 L240.2,25.8 L242.0,25.9 L243.8,25.9 L245.6,25.9 L247.4,26.0 L249.2,26.0 L251.0,26.0 L252.8,26.1 L254.7,26.1 L256.5,26.1 L258.3,26.1 L260.1,26.2 L261.9,26.2 L263.7,26.2 L265.6,26.3 L267.4,26.3 L269.2,26.3 L271.0,26.4 L272.8,26.4 L274.7,26.4 L276.5,26.4 L278.3,26.5 L280.1,26.5 L281.9,26.5 L283.8,26.6 L285.6,26.6 L287.4,26.6 L289.2,26.7 L291.1,26.7 L292.9,26.7 L294.7,26.7 L296.5,26.8 L298.4,26.8 L300.2,26.8 L302.0,26.9 L303.8,26.9 L305.7,26.9 L307.5,27.0 L309.3,27.0 L311.1,27.0 L313.0,27.1 L314.8,27.1 L316.6,27.1 L318.4,27.2 L320.3,27.2 L322.1,27.2 L323.9,27.3 L325.7,27.3 L327.5,27.4 L329.4,27.4 L331.2,27.4 L333.0,27.5 L334.8,27.5 L336.6,27.6 L338.4,27.6 L340.3,27.6 L342.1,27.7 L343.9,27.7 L345.7,27.8 L347.5,27.8 L349.3,27.9 L351.1,27.9 L352.9,28.0 L354.7,28.0 L356.5,28.1 L358.3,28.1 L360.1,28.2 L361.9,28.2 L363.7,28.3 L365.5,28.3 L367.3,28.4 L369.1,28.4 L370.9,28.5 L372.7,28.6 L374.5,28.6 L376.3,28.7 L378.1,28.8 L379.9,28.8 L381.7,28.9 L383.4,29.0 L385.2,29.0 L387.0,29.1 L388.8,29.2 L390.5,29.2 L392.3,29.3 L394.1,29.4 L395.8,29.5 L397.6,29.5 L399.4,29.6 L401.1,29.7 L402.9,29.8 L404.6,29.9 L406.4,30.0 L408.1,30.0 L409.9,30.1 L411.6,30.2 L413.4,30.3 L415.1,30.4 L416.9,30.5 L418.6,30.6 L420.3,30.7 L422.1,30.8 L423.8,30.9 L425.6,31.1 L427.4,31.2 L429.2,31.3 L431.0,31.5 L432.9,31.7 L434.8,31.9 L436.8,32.1 L438.8,32.3 L440.9,32.5 L443.0,32.8 L444.6,33.1 L446.3,33.3 L448.0,33.6 L449.7,33.8 L451.4,34.1 L453.1,34.4 L455.0,34.8 L456.6,35.3 L456.8,36.9 L454.9,37.4 L452.9,37.9 L451.3,38.2 L449.6,38.5 L447.8,38.8 L446.2,39.1 L444.5,39.4 L442.9,39.6 L440.8,39.9 L438.8,40.2 L436.8,40.5 L434.9,40.8 L433.1,41.1 L431.2,41.3 L429.4,41.5 L427.7,41.7 L425.9,42.0 L424.2,42.2 L422.5,42.4 L420.8,42.6 L419.0,42.8 L417.3,43.0 L415.6,43.2 L413.9,43.4 L412.2,43.6 L410.5,43.9 L408.8,44.1 L407.0,44.3 L405.3,44.5 L403.6,44.8 L401.8,45.0 L400.1,45.2 L398.3,45.5 L396.6,45.7 L394.8,46.0 L393.1,46.2 L391.3,46.5 L389.6,46.7 L387.8,47.0 L386.0,47.3 L384.2,47.5 L382.5,47.8 L380.7,48.1 L378.9,48.3 L377.2,48.6 L375.4,48.9 L373.6,49.2 L371.8,49.4 L370.0,49.7 L368.2,50.0 L366.5,50.3 L364.7,50.6 L362.9,50.9 L361.1,51.2 L359.3,51.5 L357.5,51.8 L355.8,52.1 L354.0,52.4 L352.2,52.7 L350.4,53.0 L348.6,53.3 L346.8,53.6 L345.0,53.9 L343.2,54.3 L341.5,54.6 L339.7,54.9 L337.9,55.2 L336.1,55.5 L334.3,55.8 L332.5,56.1 L330.7,56.4 L329.0,56.7 L327.2,57.0 L325.4,57.3 L323.6,57.6 L321.8,57.9 L320.0,58.2 L318.2,58.5 L316.5,58.8 L314.7,59.1 L312.9,59.4 L311.1,59.7 L309.3,60.0 L307.5,60.3 L305.7,60.6 L304.0,60.9 L302.2,61.2 L300.4,61.4 L298.6,61.7 L296.8,62.0 L295.0,62.3 L293.3,62.6 L291.5,62.9 L289.7,63.2 L287.9,63.5 L286.1,63.8 L284.4,64.1 L282.6,64.4 L280.8,64.7 L279.0,65.0 L277.2,65.3 L275.4,65.6 L273.7,65.9 L271.9,66.2 L270.1,66.5 L268.3,66.8 L266.6,67.1 L264.8,67.4 L263.0,67.7 L261.2,68.0 L259.4,68.3 L257.7,68.6 L255.9,68.9 L254.1,69.3 L252.3,69.6 L250.6,69.9 L248.8,70.2 L247.0,70.6 L245.3,70.9 L243.5,71.2 L241.7,71.6 L239.9,71.9 L238.2,72.3 L236.4,72.6 L234.6,72.9 L232.9,73.3 L231.1,73.7 L229.3,74.0 L227.6,74.4 L225.8,74.7 L224.0,75.1 L222.3,75.5 L220.5,75.9 L218.7,76.3 L217.0,76.6 L215.2,77.0 L213.4,77.4 L211.7,77.8 L209.9,78.2 L208.2,78.6 L206.4,79.1 L204.6,79.5 L202.9,79.9 L201.1,80.3 L199.4,80.8 L197.6,81.2 L195.9,81.6 L194.1,82.1 L192.4,82.5 L190.6,83.0 L188.9,83.5 L187.1,83.9 L185.3,84.4 L183.6,84.9 L181.9,85.4 L180.1,85.9 L178.4,86.4 L176.6,86.9 L174.9,87.4 L173.1,87.9 L171.4,88.4 L169.6,89.0 L167.9,89.5 L166.2,90.0 L164.4,90.6 L162.7,91.1 L161.0,91.7 L159.2,92.3 L157.5,92.8 L155.8,93.4 L154.1,94.0 L152.4,94.6 L150.7,95.1 L149.0,95.7 L147.3,96.3 L145.6,96.9 L143.9,97.5 L142.2,98.1 L140.5,98.7 L138.9,99.4 L137.2,100.0 L135.6,100.6 L133.9,101.2 L132.3,101.9 L130.6,102.5 L129.0,103.2 L127.4,103.8 L125.8,104.6 L124.2,105.3 L122.6,106.1 L121.1,107.0 L119.5,107.9 L118.0,108.8 L116.4,109.9 L114.9,111.0 L113.4,112.2 L111.9,113.5 L110.5,114.8 L109.1,116.3 L107.7,117.8 L106.5,119.3 L105.3,120.9 L104.2,122.5 L103.3,124.2 L102.5,125.8 L101.9,127.5 L101.5,129.2 L101.2,130.8 L101.2,132.4 L101.4,134.0 L101.7,135.6 L102.3,137.2 L103.1,138.7 L104.0,140.1 L105.0,141.6 L106.2,143.0 L107.5,144.4 L108.8,145.7 L110.2,147.0 L111.7,148.3 L113.3,149.5 L114.8,150.7 L116.4,151.9 L118.0,153.0 L119.6,154.1 L121.2,155.1 L122.8,156.1 L124.4,157.1 L126.0,158.0 L127.7,158.9 L129.3,159.8 L131.0,160.6 L132.7,161.4 L134.3,162.2 L136.0,163.0 L137.7,163.7 L139.4,164.4 L141.1,165.0 L142.8,165.7 L144.6,166.3 L146.3,166.9 L148.0,167.5 L149.8,168.0 L151.5,168.5 L153.2,169.1 L155.0,169.6 L156.8,170.0 L158.5,170.5 L160.3,170.9 L162.1,171.4 L163.8,171.8 L165.6,172.2 L167.4,172.6 L169.2,173.0 L171.0,173.4 L172.7,173.8 L174.5,174.1 L176.3,174.5 L178.1,174.9 L179.9,175.2 L181.7,175.6 L183.5,175.9 L185.3,176.3 L187.1,176.6 L188.9,176.9 L190.7,177.3 L192.5,177.6 L194.3,177.9 L196.1,178.3 L197.9,178.6 L199.6,178.9 L201.4,179.3 L203.2,179.6 L205.0,179.9 L206.8,180.2 L208.6,180.5 L210.4,180.9 L212.2,181.2 L214.0,181.5 L215.8,181.8 L217.6,182.1 L219.4,182.4 L221.2,182.7 L223.0,183.0 L224.8,183.3 L226.6,183.6 L228.4,183.9 L230.2,184.2 L232.0,184.5 L233.8,184.8 L235.6,185.0 L237.4,185.3 L239.2,185.6 L241.0,185.9 L242.8,186.1 L244.6,186.4 L246.4,186.7 L248.2,186.9 L250.0,187.2 L251.8,187.5 L253.6,187.7 L255.4,188.0 L257.2,188.3 L259.0,188.5 L260.8,188.8 L262.7,189.0 L264.5,189.3 L266.3,189.5 L268.1,189.8 L269.9,190.0 L271.7,190.2 L273.5,190.5 L275.3,190.7 L277.1,191.0 L278.9,191.2 L280.7,191.4 L282.5,191.7 L284.3,191.9 L286.1,192.1 L287.9,192.4 L289.7,192.6 L291.5,192.8 L293.4,193.0 L295.2,193.3 L297.0,193.5 L298.8,193.7 L300.6,193.9 L302.4,194.1 L304.2,194.3 L306.0,194.6 L307.8,194.8 L309.6,195.0 L311.4,195.2 L313.3,195.4 L315.1,195.6 L316.9,195.8 L318.7,196.0 L320.5,196.2 L322.3,196.4 L324.1,196.6 L325.9,196.8 L327.7,197.0 L329.5,197.2 L331.4,197.4 L333.2,197.6 L335.0,197.8 L336.8,198.0 L338.6,198.1 L340.4,198.3 L342.2,198.5 L344.0,198.7 L345.9,198.9 L347.7,199.1 L349.5,199.2 L351.3,199.4 L353.1,199.6 L354.9,199.8 L356.7,199.9 L358.5,200.1 L360.4,200.3 L362.2,200.5 L364.0,200.6 L365.8,200.8 L367.6,201.0 L369.4,201.1 L371.2,201.3 L373.1,201.5 L374.9,201.6 L376.7,201.8 L378.5,201.9 L380.3,202.1 L382.1,202.3 L383.9,202.4 L385.8,202.6 L387.6,202.7 L389.4,202.9 L391.2,203.0 L393.0,203.2 L394.8,203.3 L396.6,203.5 L398.5,203.6 L400.3,203.8 L402.1,203.9 L403.9,204.1 L405.7,204.2 L407.5,204.4 L409.4,204.5 L411.2,204.7 L413.0,204.8 L414.8,204.9 L416.6,205.1 L418.4,205.2 L420.3,205.4 L422.1,205.5 L423.9,205.6 L425.7,205.8 L427.5,205.9 L429.3,206.0 L431.2,206.2 L433.0,206.3 L434.8,206.4 L436.6,206.6 L438.4,206.7 L440.2,206.8 L442.1,207.0 L443.9,207.1 L445.7,207.2 L447.5,207.3 L449.3,207.5 L451.2,207.6 L453.0,207.7 L454.8,207.8 L456.6,208.0 L458.4,208.1 L460.2,208.2 L462.1,208.3 L463.9,208.5 L465.7,208.6 L467.5,208.7 L469.3,208.8 L471.2,208.9 L473.0,209.0 L474.8,209.2 L476.6,209.3 L478.4,209.4 L480.2,209.5 L482.1,209.6 L483.9,209.7 L485.7,209.9 L487.5,210.0 L489.3,210.1 L491.2,210.2 L493.0,210.3 L494.8,210.4 L496.6,210.5 L498.4,210.6 L500.2,210.8 L502.1,210.9 L503.9,211.0 L505.7,211.1 L507.5,211.2 L509.3,211.3 L511.2,211.4 L513.0,211.5 L514.8,211.6 L516.6,211.7 L518.4,211.9 L520.2,212.0 L522.1,212.1 L523.9,212.2 L525.7,212.3 L526.6,212.3" stroke="#138071" stroke-dasharray="12 5 3.5 5"/>
<path d="M44.6,24.3 L46.4,24.3 L48.2,24.3 L50.0,24.3 L51.8,24.3 L53.5,24.3 L55.3,24.3 L57.1,24.3 L58.9,24.3 L60.7,24.3 L62.5,24.4 L64.3,24.4 L66.1,24.4 L67.9,24.4 L69.7,24.4 L71.5,24.4 L73.3,24.4 L75.1,24.4 L76.9,24.4 L78.7,24.4 L80.5,24.4 L82.3,24.4 L84.1,24.5 L85.9,24.5 L87.6,24.5 L89.4,24.5 L91.2,24.5 L93.0,24.5 L94.8,24.5 L96.6,24.5 L98.4,24.5 L100.2,24.5 L102.0,24.6 L103.8,24.6 L105.6,24.6 L107.4,24.6 L109.2,24.6 L111.0,24.6 L112.8,24.6 L114.6,24.6 L116.4,24.7 L118.2,24.7 L119.9,24.7 L121.7,24.7 L123.5,24.7 L125.3,24.7 L127.1,24.8 L128.9,24.8 L130.7,24.8 L132.5,24.8 L134.3,24.8 L136.1,24.8 L137.9,24.9 L139.6,24.9 L141.4,24.9 L143.2,24.9 L145.0,24.9 L146.8,24.9 L148.6,25.0 L150.4,25.0 L152.2,25.0 L153.9,25.0 L155.7,25.1 L157.5,25.1 L159.3,25.1 L161.1,25.1 L162.9,25.1 L164.7,25.2 L166.4,25.2 L168.2,25.2 L170.0,25.2 L171.8,25.3 L173.6,25.3 L175.4,25.3 L177.1,25.4 L178.9,25.4 L180.7,25.4 L182.5,25.4 L184.3,25.5 L186.0,25.5 L187.8,25.5 L189.6,25.5 L191.4,25.6 L193.2,25.6 L195.0,25.6 L196.7,25.7 L198.5,25.7 L200.3,25.7 L202.1,25.8 L203.9,25.8 L205.7,25.8 L207.4,25.8 L209.2,25.9 L211.0,25.9 L212.8,25.9 L214.6,26.0 L216.4,26.0 L218.1,26.0 L219.9,26.1 L221.7,26.1 L223.5,26.1 L225.3,26.2 L227.1,26.2 L228.9,26.2 L230.7,26.2 L232.4,26.3 L234.2,26.3 L236.0,26.3 L237.8,26.4 L239.6,26.4 L241.4,26.4 L243.2,26.5 L245.0,26.5 L246.8,26.5 L248.6,26.6 L250.4,26.6 L252.2,26.6 L254.0,26.6 L255.8,26.7 L257.6,26.7 L259.4,26.7 L261.2,26.8 L263.0,26.8 L264.8,26.8 L266.6,26.8 L268.4,26.9 L270.2,26.9 L272.0,26.9 L273.8,27.0 L275.6,27.0 L277.4,27.0 L279.2,27.1 L281.0,27.1 L282.8,27.1 L284.6,27.1 L286.4,27.2 L288.2,27.2 L290.0,27.2 L291.8,27.3 L293.6,27.3 L295.4,27.3 L297.2,27.4 L299.0,27.4 L300.8,27.4 L302.6,27.5 L304.4,27.5 L306.2,27.6 L308.0,27.6 L309.8,27.6 L311.6,27.7 L313.4,27.7 L315.2,27.7 L317.0,27.8 L318.8,27.8 L320.6,27.9 L322.4,27.9 L324.2,27.9 L326.0,28.0 L327.8,28.0 L329.6,28.1 L331.4,28.1 L333.1,28.2 L334.9,28.2 L336.7,28.3 L338.5,28.3 L340.3,28.4 L342.1,28.4 L343.8,28.5 L345.6,28.5 L347.4,28.6 L349.2,28.6 L351.0,28.7 L352.7,28.7 L354.5,28.8 L356.3,28.9 L358.0,28.9 L359.8,29.0 L361.6,29.0 L363.3,29.1 L365.1,29.2 L366.9,29.2 L368.6,29.3 L370.4,29.4 L372.1,29.5 L373.9,29.5 L375.6,29.6 L377.4,29.7 L379.1,29.8 L380.9,29.8 L382.6,29.9 L384.4,30.0 L386.1,30.1 L387.8,30.2 L389.6,30.2 L391.3,30.3 L393.0,30.4 L394.7,30.5 L396.5,30.6 L398.2,30.7 L399.9,30.8 L401.6,30.9 L403.3,31.0 L405.0,31.1 L406.8,31.2 L408.5,31.3 L410.3,31.4 L412.0,31.6 L413.8,31.7 L415.7,31.9 L417.5,32.1 L419.4,32.3 L421.4,32.5 L423.4,32.7 L425.5,33.0 L427.6,33.3 L429.2,33.5 L430.9,33.8 L432.6,34.1 L434.3,34.3 L435.9,34.6 L438.0,35.1 L439.6,35.5 L441.1,36.3 L439.8,37.3 L438.2,37.8 L436.2,38.2 L434.6,38.5 L432.9,38.8 L431.2,39.1 L429.5,39.4 L427.9,39.7 L426.3,39.9 L424.2,40.3 L422.2,40.6 L420.3,40.9 L418.4,41.1 L416.5,41.4 L414.7,41.6 L412.9,41.9 L411.2,42.1 L409.4,42.3 L407.7,42.5 L406.0,42.7 L404.3,42.9 L402.7,43.1 L401.0,43.3 L399.3,43.5 L397.6,43.8 L395.9,44.0 L394.2,44.2 L392.5,44.4 L390.7,44.6 L389.0,44.9 L387.3,45.1 L385.6,45.3 L383.9,45.6 L382.1,45.8 L380.4,46.1 L378.7,46.3 L376.9,46.6 L375.2,46.8 L373.4,47.1 L371.7,47.3 L369.9,47.6 L368.2,47.9 L366.4,48.1 L364.6,48.4 L362.9,48.7 L361.1,49.0 L359.4,49.2 L357.6,49.5 L355.8,49.8 L354.1,50.1 L352.3,50.4 L350.5,50.7 L348.8,51.0 L347.0,51.2 L345.2,51.5 L343.5,51.8 L341.7,52.1 L339.9,52.4 L338.1,52.8 L336.4,53.1 L334.6,53.4 L332.8,53.7 L331.1,54.0 L329.3,54.3 L327.5,54.6 L325.7,54.9 L324.0,55.2 L322.2,55.5 L320.4,55.8 L318.7,56.2 L316.9,56.5 L315.1,56.8 L313.3,57.1 L311.6,57.4 L309.8,57.7 L308.0,58.0 L306.3,58.3 L304.5,58.6 L302.7,58.9 L300.9,59.2 L299.2,59.5 L297.4,59.8 L295.6,60.0 L293.9,60.3 L292.1,60.6 L290.3,60.9 L288.6,61.2 L286.8,61.5 L285.0,61.8 L283.3,62.1 L281.5,62.4 L279.7,62.7 L278.0,63.0 L276.2,63.3 L274.4,63.5 L272.7,63.8 L270.9,64.1 L269.1,64.4 L267.4,64.7 L265.6,65.0 L263.8,65.3 L262.1,65.6 L260.3,65.9 L258.5,66.2 L256.8,66.5 L255.0,66.8 L253.2,67.1 L251.5,67.4 L249.7,67.7 L248.0,68.0 L246.2,68.4 L244.4,68.7 L242.7,69.0 L240.9,69.3 L239.2,69.6 L237.4,69.9 L235.6,70.3 L233.9,70.6 L232.1,70.9 L230.4,71.3 L228.6,71.6 L226.9,71.9 L225.1,72.3 L223.3,72.6 L221.6,73.0 L219.8,73.3 L218.1,73.7 L216.3,74.0 L214.6,74.4 L212.8,74.7 L211.1,75.1 L209.3,75.5 L207.6,75.8 L205.8,76.2 L204.1,76.6 L202.3,77.0 L200.6,77.4 L198.8,77.8 L197.1,78.2 L195.3,78.6 L193.6,79.0 L191.8,79.4 L190.1,79.8 L188.4,80.2 L186.6,80.7 L184.9,81.1 L183.1,81.5 L181.4,82.0 L179.7,82.4 L177.9,82.9 L176.2,83.4 L174.4,83.8 L172.7,84.3 L171.0,84.8 L169.2,85.2 L167.5,85.7 L165.8,86.2 L164.0,86.7 L162.3,87.2 L160.6,87.7 L158.8,88.3 L157.1,88.8 L155.4,89.3 L153.6,89.8 L151.9,90.4 L150.2,90.9 L148.5,91.5 L146.8,92.0 L145.0,92.6 L143.3,93.2 L141.6,93.7 L139.9,94.3 L138.2,94.9 L136.5,95.5 L134.8,96.1 L133.2,96.7 L131.5,97.3 L129.8,97.9 L128.1,98.5 L126.5,99.1 L124.8,99.7 L123.2,100.3 L121.5,100.9 L119.9,101.5 L118.3,102.2 L116.6,102.8 L115.0,103.5 L113.4,104.2 L111.8,104.9 L110.2,105.6 L108.7,106.4 L107.1,107.3 L105.5,108.2 L104.0,109.2 L102.5,110.2 L101.0,111.3 L99.5,112.5 L98.0,113.8 L96.5,115.1 L95.1,116.6 L93.7,118.0 L92.5,119.6 L91.3,121.2 L90.2,122.8 L89.3,124.4 L88.5,126.1 L87.9,127.8 L87.4,129.4 L87.1,131.1 L87.0,132.7 L87.2,134.3 L87.6,135.9 L88.1,137.4 L88.8,138.9 L89.7,140.4 L90.7,141.8 L91.8,143.2 L93.0,144.6 L94.4,146.0 L95.8,147.3 L97.2,148.5 L98.7,149.8 L100.2,150.9 L101.7,152.1 L103.3,153.2 L104.8,154.3 L106.4,155.3 L108.0,156.3 L109.6,157.3 L111.2,158.2 L112.8,159.1 L114.4,160.0 L116.0,160.8 L117.6,161.6 L119.3,162.4 L120.9,163.2 L122.6,163.9 L124.2,164.6 L125.9,165.2 L127.6,165.9 L129.3,166.5 L131.0,167.1 L132.7,167.7 L134.4,168.2 L136.1,168.8 L137.8,169.3 L139.5,169.8 L141.3,170.3 L143.0,170.8 L144.7,171.2 L146.5,171.7 L148.2,172.1 L149.9,172.5 L151.7,172.9 L153.4,173.3 L155.2,173.7 L157.0,174.1 L158.7,174.4 L160.5,174.8 L162.2,175.2 L164.0,175.5 L165.8,175.9 L167.5,176.2 L169.3,176.6 L171.0,176.9 L172.8,177.3 L174.6,177.6 L176.3,178.0 L178.1,178.3 L179.9,178.6 L181.6,179.0 L183.4,179.3 L185.2,179.6 L186.9,179.9 L188.7,180.3 L190.5,180.6 L192.2,180.9 L194.0,181.2 L195.8,181.5 L197.5,181.9 L199.3,182.2 L201.1,182.5 L202.8,182.8 L204.6,183.1 L206.4,183.4 L208.1,183.7 L209.9,184.0 L211.7,184.3 L213.4,184.6 L215.2,184.9 L217.0,185.2 L218.8,185.5 L220.5,185.7 L222.3,186.0 L224.1,186.3 L225.8,186.6 L227.6,186.8 L229.4,187.1 L231.2,187.4 L232.9,187.6 L234.7,187.9 L236.5,188.2 L238.2,188.4 L240.0,188.7 L241.8,189.0 L243.6,189.2 L245.3,189.5 L247.1,189.7 L248.9,190.0 L250.7,190.2 L252.4,190.5 L254.2,190.7 L256.0,191.0 L257.8,191.2 L259.5,191.4 L261.3,191.7 L263.1,191.9 L264.9,192.1 L266.7,192.4 L268.4,192.6 L270.2,192.8 L272.0,193.1 L273.8,193.3 L275.5,193.5 L277.3,193.7 L279.1,194.0 L280.9,194.2 L282.7,194.4 L284.4,194.6 L286.2,194.8 L288.0,195.1 L289.8,195.3 L291.6,195.5 L293.3,195.7 L295.1,195.9 L296.9,196.1 L298.7,196.3 L300.5,196.5 L302.2,196.7 L304.0,196.9 L305.8,197.1 L307.6,197.3 L309.4,197.5 L311.1,197.7 L312.9,197.9 L314.7,198.1 L316.5,198.3 L318.3,198.5 L320.1,198.7 L321.8,198.8 L323.6,199.0 L325.4,199.2 L327.2,199.4 L329.0,199.6 L330.7,199.8 L332.5,199.9 L334.3,200.1 L336.1,200.3 L337.9,200.5 L339.7,200.6 L341.5,200.8 L343.2,201.0 L345.0,201.2 L346.8,201.3 L348.6,201.5 L350.4,201.7 L352.2,201.8 L353.9,202.0 L355.7,202.2 L357.5,202.3 L359.3,202.5 L361.1,202.7 L362.9,202.8 L364.7,203.0 L366.4,203.1 L368.2,203.3 L370.0,203.4 L371.8,203.6 L373.6,203.7 L375.4,203.9 L377.2,204.1 L379.0,204.2 L380.7,204.3 L382.5,204.5 L384.3,204.6 L386.1,204.8 L387.9,204.9 L389.7,205.1 L391.5,205.2 L393.3,205.4 L395.0,205.5 L396.8,205.7 L398.6,205.8 L400.4,205.9 L402.2,206.1 L404.0,206.2 L405.8,206.3 L407.6,206.5 L409.3,206.6 L411.1,206.8 L412.9,206.9 L414.7,207.0 L416.5,207.2 L418.3,207.3 L420.1,207.4 L421.9,207.5 L423.7,207.7 L425.4,207.8 L427.2,207.9 L429.0,208.1 L430.8,208.2 L432.6,208.3 L434.4,208.4 L436.2,208.6 L438.0,208.7 L439.8,208.8 L441.5,208.9 L443.3,209.1 L445.1,209.2 L446.9,209.3 L448.7,209.4 L450.5,209.5 L452.3,209.6 L454.1,209.8 L455.9,209.9 L457.7,210.0 L459.4,210.1 L461.2,210.2 L463.0,210.3 L464.8,210.5 L466.6,210.6 L468.4,210.7 L470.2,210.8 L472.0,210.9 L473.8,211.0 L475.6,211.1 L477.3,211.2 L479.1,211.4 L480.9,211.5 L482.7,211.6 L484.5,211.7 L486.3,211.8 L488.1,211.9 L489.9,212.0 L491.7,212.1 L493.5,212.2 L495.2,212.3 L497.0,212.5 L498.8,212.6 L500.6,212.7 L502.4,212.8 L504.2,212.9 L506.0,213.0 L507.8,213.1 L509.6,213.2 L511.3,213.3 L513.1,213.4 L514.9,213.5 L516.7,213.6 L518.5,213.7 L520.3,213.9 L522.1,214.0 L523.9,214.1 L525.7,214.2 L526.6,214.2" stroke="#da18d2" stroke-dasharray="9.6 5.2 3.2 4.8 3.2 4.8"/>
</g>
<rect x="64.25" y="8.5" width="442.75" height="218.6" fill="none" stroke="#000" stroke-width="3"/>
<path d="M84.37,227.1v-4.6M84.37,8.5v4.6M104.50,227.1v-7.8M104.50,8.5v7.8M124.62,227.1v-4.6M124.62,8.5v4.6M144.75,227.1v-7.8M144.75,8.5v7.8M164.88,227.1v-4.6M164.88,8.5v4.6M185.00,227.1v-7.8M185.00,8.5v7.8M205.13,227.1v-4.6M205.13,8.5v4.6M225.25,227.1v-7.8M225.25,8.5v7.8M245.38,227.1v-4.6M245.38,8.5v4.6M265.50,227.1v-7.8M265.50,8.5v7.8M285.63,227.1v-4.6M285.63,8.5v4.6M305.75,227.1v-7.8M305.75,8.5v7.8M325.87,227.1v-4.6M325.87,8.5v4.6M346.00,227.1v-7.8M346.00,8.5v7.8M366.12,227.1v-4.6M366.12,8.5v4.6M386.25,227.1v-7.8M386.25,8.5v7.8M406.38,227.1v-4.6M406.38,8.5v4.6M426.50,227.1v-7.8M426.50,8.5v7.8M446.63,227.1v-4.6M446.63,8.5v4.6M466.75,227.1v-7.8M466.75,8.5v7.8M486.88,227.1v-4.6M486.88,8.5v4.6M64.25,172.45h4.6M507.0,172.45h-4.6M64.25,117.80h7.8M507.0,117.80h-7.8M64.25,63.15h4.6M507.0,63.15h-4.6" stroke="#000" stroke-width="2.8" fill="none"/>
<text transform="translate(57.30,231.70) scale(1.03,1)" text-anchor="end" style="font-family:'Liberation Sans',Arial,sans-serif;font-weight:bold;font-size:18.6px">0.0</text>
<text transform="translate(57.30,122.40) scale(1.03,1)" text-anchor="end" style="font-family:'Liberation Sans',Arial,sans-serif;font-weight:bold;font-size:18.6px">0.5</text>
<text transform="translate(57.30,13.90) scale(1.03,1)" text-anchor="end" style="font-family:'Liberation Sans',Arial,sans-serif;font-weight:bold;font-size:18.6px">1.0</text>
<text transform="translate(20.0,115.78) rotate(-90)" text-anchor="middle" style="font-family:'Liberation Sans',Arial,sans-serif;font-weight:bold;font-size:25.6px">R</text>
<text x="76.5" y="56.1" style="font-family:'Liberation Sans',Arial,sans-serif;font-weight:bold;font-size:24px">(a)</text>
<g clip-path="url(#c1)" fill="none" stroke-width="2.5" stroke-linejoin="round">
<path d="M44.7,256.4 L46.5,256.4 L48.4,256.4 L50.2,256.4 L52.1,256.4 L54.0,256.4 L55.8,256.4 L57.7,256.4 L59.5,256.5 L61.4,256.5 L63.3,256.5 L65.1,256.5 L67.0,256.5 L68.9,256.5 L70.7,256.5 L72.6,256.5 L74.5,256.5 L76.3,256.5 L78.2,256.5 L80.1,256.5 L81.9,256.5 L83.8,256.6 L85.7,256.6 L87.5,256.6 L89.4,256.6 L91.3,256.6 L93.1,256.6 L95.0,256.6 L96.9,256.6 L98.7,256.6 L100.6,256.6 L102.5,256.6 L104.4,256.6 L106.2,256.6 L108.1,256.7 L110.0,256.7 L111.8,256.7 L113.7,256.7 L115.6,256.7 L117.4,256.7 L119.3,256.7 L121.2,256.7 L123.1,256.7 L124.9,256.7 L126.8,256.7 L128.7,256.7 L130.5,256.8 L132.4,256.8 L134.3,256.8 L136.1,256.8 L138.0,256.8 L139.9,256.8 L141.8,256.8 L143.6,256.8 L145.5,256.8 L147.4,256.9 L149.2,256.9 L151.1,256.9 L153.0,256.9 L154.8,256.9 L156.7,256.9 L158.6,256.9 L160.4,256.9 L162.3,257.0 L164.2,257.0 L166.0,257.0 L167.9,257.0 L169.8,257.0 L171.6,257.0 L173.5,257.0 L175.4,257.1 L177.2,257.1 L179.1,257.1 L181.0,257.1 L182.8,257.1 L184.7,257.1 L186.6,257.2 L188.4,257.2 L190.3,257.2 L192.2,257.2 L194.0,257.2 L195.9,257.3 L197.7,257.3 L199.6,257.3 L201.5,257.3 L203.3,257.4 L205.2,257.4 L207.1,257.4 L208.9,257.4 L210.8,257.4 L212.6,257.5 L214.5,257.5 L216.3,257.5 L218.2,257.5 L220.1,257.6 L221.9,257.6 L223.8,257.6 L225.6,257.7 L227.5,257.7 L229.3,257.7 L231.2,257.7 L233.1,257.8 L234.9,257.8 L236.8,257.8 L238.6,257.8 L240.5,257.9 L242.3,257.9 L244.2,257.9 L246.1,258.0 L247.9,258.0 L249.8,258.0 L251.6,258.1 L253.5,258.1 L255.3,258.1 L257.2,258.1 L259.1,258.2 L260.9,258.2 L262.8,258.2 L264.6,258.3 L266.5,258.3 L268.3,258.3 L270.2,258.4 L272.1,258.4 L273.9,258.4 L275.8,258.5 L277.7,258.5 L279.5,258.5 L281.4,258.6 L283.2,258.6 L285.1,258.6 L287.0,258.6 L288.8,258.7 L290.7,258.7 L292.6,258.7 L294.4,258.8 L296.3,258.8 L298.2,258.8 L300.1,258.9 L301.9,258.9 L303.8,258.9 L305.7,258.9 L307.5,259.0 L309.4,259.0 L311.3,259.0 L313.2,259.1 L315.0,259.1 L316.9,259.1 L318.8,259.2 L320.7,259.2 L322.5,259.2 L324.4,259.2 L326.3,259.3 L328.2,259.3 L330.1,259.3 L331.9,259.4 L333.8,259.4 L335.7,259.4 L337.6,259.5 L339.4,259.5 L341.3,259.5 L343.2,259.6 L345.1,259.6 L347.0,259.6 L348.8,259.7 L350.7,259.7 L352.6,259.7 L354.5,259.8 L356.3,259.8 L358.2,259.8 L360.1,259.9 L362.0,259.9 L363.8,259.9 L365.7,260.0 L367.6,260.0 L369.5,260.1 L371.3,260.1 L373.2,260.1 L375.1,260.2 L376.9,260.2 L378.8,260.3 L380.7,260.3 L382.6,260.4 L384.4,260.4 L386.3,260.4 L388.1,260.5 L390.0,260.5 L391.9,260.6 L393.7,260.6 L395.6,260.7 L397.4,260.7 L399.3,260.8 L401.1,260.8 L403.0,260.9 L404.9,261.0 L406.7,261.0 L408.5,261.1 L410.4,261.1 L412.2,261.2 L414.1,261.3 L415.9,261.3 L417.8,261.4 L419.6,261.4 L421.4,261.5 L423.3,261.6 L425.1,261.6 L426.9,261.7 L428.8,261.8 L430.6,261.9 L432.4,261.9 L434.2,262.0 L436.0,262.1 L437.9,262.2 L439.7,262.2 L441.5,262.3 L443.3,262.4 L445.1,262.5 L446.9,262.6 L448.7,262.7 L450.5,262.8 L452.3,262.9 L454.1,262.9 L455.9,263.0 L457.7,263.1 L459.5,263.2 L461.2,263.3 L463.0,263.4 L464.8,263.5 L466.6,263.7 L468.5,263.8 L470.3,263.9 L472.2,264.1 L474.1,264.3 L476.0,264.4 L478.0,264.6 L480.1,264.9 L482.2,265.1 L483.8,265.3 L485.4,265.5 L487.1,265.7 L488.8,266.0 L490.5,266.2 L492.3,266.5 L494.1,266.8 L495.8,267.1 L497.8,267.6 L499.3,268.0 L499.5,269.6 L497.5,270.2 L495.5,270.6 L493.8,270.9 L492.0,271.2 L490.2,271.5 L488.5,271.8 L486.8,272.1 L485.1,272.3 L483.5,272.6 L481.9,272.8 L479.9,273.1 L477.9,273.4 L475.9,273.6 L474.0,273.9 L472.1,274.1 L470.3,274.3 L468.4,274.6 L466.6,274.8 L464.9,275.0 L463.1,275.2 L461.3,275.4 L459.6,275.6 L457.8,275.8 L456.1,276.0 L454.3,276.2 L452.5,276.5 L450.7,276.7 L448.9,276.9 L447.2,277.1 L445.4,277.4 L443.6,277.6 L441.8,277.8 L440.0,278.1 L438.2,278.3 L436.3,278.6 L434.5,278.8 L432.7,279.1 L430.9,279.3 L429.1,279.6 L427.2,279.8 L425.4,280.1 L423.6,280.3 L421.8,280.6 L419.9,280.9 L418.1,281.2 L416.3,281.4 L414.4,281.7 L412.6,282.0 L410.7,282.3 L408.9,282.6 L407.0,282.8 L405.2,283.1 L403.4,283.4 L401.5,283.7 L399.7,284.0 L397.8,284.3 L396.0,284.6 L394.1,284.9 L392.3,285.2 L390.4,285.5 L388.6,285.8 L386.7,286.2 L384.9,286.5 L383.0,286.8 L381.2,287.1 L379.3,287.4 L377.5,287.7 L375.7,288.0 L373.8,288.3 L372.0,288.6 L370.1,288.9 L368.3,289.2 L366.4,289.5 L364.6,289.8 L362.7,290.1 L360.9,290.4 L359.0,290.7 L357.2,291.0 L355.3,291.3 L353.5,291.6 L351.7,291.9 L349.8,292.2 L348.0,292.5 L346.1,292.8 L344.3,293.1 L342.4,293.3 L340.6,293.6 L338.7,293.9 L336.9,294.2 L335.1,294.5 L333.2,294.8 L331.4,295.1 L329.5,295.4 L327.7,295.7 L325.8,295.9 L324.0,296.2 L322.2,296.5 L320.3,296.8 L318.5,297.1 L316.6,297.4 L314.8,297.7 L313.0,298.0 L311.1,298.3 L309.3,298.6 L307.4,298.9 L305.6,299.2 L303.8,299.5 L301.9,299.8 L300.1,300.1 L298.3,300.4 L296.4,300.7 L294.6,301.0 L292.8,301.4 L290.9,301.7 L289.1,302.0 L287.2,302.3 L285.4,302.6 L283.6,303.0 L281.7,303.3 L279.9,303.6 L278.1,304.0 L276.3,304.3 L274.4,304.6 L272.6,305.0 L270.8,305.3 L268.9,305.7 L267.1,306.0 L265.3,306.4 L263.5,306.7 L261.6,307.1 L259.8,307.5 L258.0,307.8 L256.1,308.2 L254.3,308.6 L252.5,309.0 L250.7,309.3 L248.9,309.7 L247.0,310.1 L245.2,310.5 L243.4,310.9 L241.6,311.3 L239.8,311.8 L237.9,312.2 L236.1,312.6 L234.3,313.0 L232.5,313.5 L230.7,313.9 L228.8,314.3 L227.0,314.8 L225.2,315.2 L223.4,315.7 L221.6,316.2 L219.8,316.6 L218.0,317.1 L216.2,317.6 L214.3,318.1 L212.5,318.6 L210.7,319.1 L208.9,319.6 L207.1,320.1 L205.3,320.6 L203.5,321.1 L201.7,321.7 L199.9,322.2 L198.1,322.7 L196.3,323.3 L194.5,323.8 L192.7,324.4 L190.9,325.0 L189.2,325.5 L187.4,326.1 L185.6,326.7 L183.8,327.2 L182.1,327.8 L180.3,328.4 L178.6,329.0 L176.8,329.6 L175.1,330.2 L173.3,330.8 L171.6,331.4 L169.9,332.0 L168.2,332.7 L166.4,333.3 L164.7,333.9 L163.0,334.5 L161.4,335.2 L159.7,335.8 L158.0,336.5 L156.3,337.3 L154.7,338.0 L153.1,338.9 L151.4,339.7 L149.8,340.7 L148.2,341.7 L146.6,342.7 L145.0,343.9 L143.5,345.1 L141.9,346.4 L140.4,347.8 L139.0,349.3 L137.6,350.8 L136.3,352.3 L135.1,353.9 L134.1,355.6 L133.2,357.2 L132.4,358.9 L131.8,360.5 L131.4,362.2 L131.2,363.8 L131.3,365.4 L131.5,367.0 L132.0,368.6 L132.7,370.1 L133.5,371.6 L134.4,373.1 L135.5,374.5 L136.8,375.9 L138.1,377.2 L139.5,378.6 L141.0,379.8 L142.5,381.1 L144.1,382.3 L145.6,383.5 L147.2,384.6 L148.8,385.7 L150.5,386.8 L152.1,387.8 L153.7,388.8 L155.4,389.7 L157.0,390.6 L158.7,391.5 L160.4,392.4 L162.1,393.2 L163.8,394.0 L165.5,394.8 L167.2,395.5 L168.9,396.2 L170.7,396.9 L172.4,397.5 L174.2,398.2 L175.9,398.8 L177.7,399.4 L179.5,400.0 L181.2,400.5 L183.0,401.0 L184.8,401.5 L186.6,402.0 L188.4,402.5 L190.2,403.0 L192.0,403.4 L193.8,403.9 L195.6,404.3 L197.4,404.7 L199.3,405.1 L201.1,405.5 L202.9,405.9 L204.7,406.3 L206.6,406.6 L208.4,407.0 L210.2,407.4 L212.1,407.7 L213.9,408.1 L215.7,408.4 L217.6,408.8 L219.4,409.1 L221.2,409.5 L223.1,409.8 L224.9,410.2 L226.7,410.5 L228.6,410.8 L230.4,411.2 L232.2,411.5 L234.1,411.8 L235.9,412.2 L237.7,412.5 L239.6,412.8 L241.4,413.1 L243.3,413.4 L245.1,413.8 L246.9,414.1 L248.8,414.4 L250.6,414.7 L252.4,415.0 L254.3,415.3 L256.1,415.6 L258.0,415.9 L259.8,416.2 L261.6,416.5 L263.5,416.8 L265.3,417.1 L267.2,417.4 L269.0,417.7 L270.9,418.0 L272.7,418.2 L274.5,418.5 L276.4,418.8 L278.2,419.1 L280.1,419.4 L281.9,419.6 L283.8,419.9 L285.6,420.2 L287.4,420.5 L289.3,420.7 L291.1,421.0 L293.0,421.3 L294.8,421.5 L296.7,421.8 L298.5,422.0 L300.4,422.3 L302.2,422.5 L304.1,422.8 L305.9,423.1 L307.8,423.3 L309.6,423.5 L311.4,423.8 L313.3,424.0 L315.1,424.3 L317.0,424.5 L318.8,424.8 L320.7,425.0 L322.5,425.2 L324.4,425.5 L326.2,425.7 L328.1,425.9 L329.9,426.2 L331.8,426.4 L333.6,426.6 L335.5,426.8 L337.3,427.1 L339.2,427.3 L341.0,427.5 L342.9,427.7 L344.7,427.9 L346.6,428.1 L348.4,428.4 L350.3,428.6 L352.2,428.8 L354.0,429.0 L355.9,429.2 L357.7,429.4 L359.6,429.6 L361.4,429.8 L363.3,430.0 L365.1,430.2 L367.0,430.4 L368.8,430.6 L370.7,430.8 L372.5,431.0 L374.4,431.2 L376.2,431.4 L378.1,431.6 L380.0,431.8 L381.8,431.9 L383.7,432.1 L385.5,432.3 L387.4,432.5 L389.2,432.7 L391.1,432.9 L392.9,433.0 L394.8,433.2 L396.7,433.4 L398.5,433.6 L400.4,433.8 L402.2,433.9 L404.1,434.1 L405.9,434.3 L407.8,434.4 L409.7,434.6 L411.5,434.8 L413.4,434.9 L415.2,435.1 L417.1,435.3 L418.9,435.4 L420.8,435.6 L422.7,435.8 L424.5,435.9 L426.4,436.1 L428.2,436.2 L430.1,436.4 L432.0,436.6 L433.8,436.7 L435.7,436.9 L437.5,437.0 L439.4,437.2 L441.3,437.3 L443.1,437.5 L445.0,437.6 L446.8,437.8 L448.7,437.9 L450.6,438.1 L452.4,438.2 L454.3,438.4 L456.1,438.5 L458.0,438.6 L459.9,438.8 L461.7,438.9 L463.6,439.1 L465.4,439.2 L467.3,439.3 L469.2,439.5 L471.0,439.6 L472.9,439.8 L474.7,439.9 L476.6,440.0 L478.5,440.2 L480.3,440.3 L482.2,440.4 L484.0,440.6 L485.9,440.7 L487.8,440.8 L489.6,440.9 L491.5,441.1 L493.4,441.2 L495.2,441.3 L497.1,441.5 L498.9,441.6 L500.8,441.7 L502.7,441.8 L504.5,442.0 L506.4,442.1 L508.3,442.2 L510.1,442.3 L512.0,442.5 L513.8,442.6 L515.7,442.7 L517.6,442.8 L519.4,442.9 L521.3,443.1 L523.2,443.2 L525.0,443.3 L526.9,443.4 L526.9,443.4" stroke="#000000"/>
<path d="M44.6,257.1 L46.5,257.1 L48.3,257.1 L50.1,257.1 L52.0,257.1 L53.8,257.1 L55.6,257.1 L57.4,257.2 L59.3,257.2 L61.1,257.2 L62.9,257.2 L64.8,257.2 L66.6,257.2 L68.4,257.2 L70.3,257.2 L72.1,257.2 L73.9,257.2 L75.8,257.2 L77.6,257.2 L79.4,257.2 L81.2,257.3 L83.1,257.3 L84.9,257.3 L86.7,257.3 L88.6,257.3 L90.4,257.3 L92.2,257.3 L94.1,257.3 L95.9,257.3 L97.7,257.3 L99.6,257.3 L101.4,257.3 L103.2,257.4 L105.1,257.4 L106.9,257.4 L108.7,257.4 L110.6,257.4 L112.4,257.4 L114.2,257.4 L116.1,257.4 L117.9,257.4 L119.7,257.4 L121.6,257.5 L123.4,257.5 L125.2,257.5 L127.1,257.5 L128.9,257.5 L130.7,257.5 L132.6,257.5 L134.4,257.5 L136.2,257.6 L138.1,257.6 L139.9,257.6 L141.7,257.6 L143.5,257.6 L145.4,257.6 L147.2,257.6 L149.0,257.7 L150.9,257.7 L152.7,257.7 L154.5,257.7 L156.4,257.7 L158.2,257.7 L160.0,257.8 L161.8,257.8 L163.7,257.8 L165.5,257.8 L167.3,257.8 L169.1,257.8 L171.0,257.9 L172.8,257.9 L174.6,257.9 L176.4,257.9 L178.3,257.9 L180.1,258.0 L181.9,258.0 L183.7,258.0 L185.6,258.0 L187.4,258.1 L189.2,258.1 L191.0,258.1 L192.8,258.1 L194.7,258.2 L196.5,258.2 L198.3,258.2 L200.1,258.2 L201.9,258.3 L203.8,258.3 L205.6,258.3 L207.4,258.4 L209.2,258.4 L211.0,258.4 L212.9,258.4 L214.7,258.5 L216.5,258.5 L218.3,258.5 L220.1,258.6 L222.0,258.6 L223.8,258.6 L225.6,258.6 L227.4,258.7 L229.2,258.7 L231.1,258.7 L232.9,258.8 L234.7,258.8 L236.5,258.8 L238.3,258.9 L240.2,258.9 L242.0,258.9 L243.8,258.9 L245.6,259.0 L247.5,259.0 L249.3,259.0 L251.1,259.1 L252.9,259.1 L254.8,259.1 L256.6,259.2 L258.4,259.2 L260.2,259.2 L262.1,259.3 L263.9,259.3 L265.7,259.3 L267.6,259.3 L269.4,259.4 L271.2,259.4 L273.1,259.4 L274.9,259.5 L276.7,259.5 L278.6,259.5 L280.4,259.6 L282.2,259.6 L284.1,259.6 L285.9,259.6 L287.7,259.7 L289.6,259.7 L291.4,259.7 L293.3,259.8 L295.1,259.8 L296.9,259.8 L298.8,259.8 L300.6,259.9 L302.5,259.9 L304.3,259.9 L306.1,260.0 L308.0,260.0 L309.8,260.0 L311.7,260.1 L313.5,260.1 L315.4,260.1 L317.2,260.2 L319.0,260.2 L320.9,260.2 L322.7,260.3 L324.6,260.3 L326.4,260.3 L328.2,260.4 L330.1,260.4 L331.9,260.4 L333.8,260.5 L335.6,260.5 L337.4,260.5 L339.3,260.6 L341.1,260.6 L342.9,260.7 L344.8,260.7 L346.6,260.7 L348.4,260.8 L350.3,260.8 L352.1,260.9 L353.9,260.9 L355.8,260.9 L357.6,261.0 L359.4,261.0 L361.2,261.1 L363.1,261.1 L364.9,261.2 L366.7,261.2 L368.5,261.3 L370.4,261.3 L372.2,261.4 L374.0,261.4 L375.8,261.5 L377.6,261.5 L379.4,261.6 L381.2,261.7 L383.1,261.7 L384.9,261.8 L386.7,261.8 L388.5,261.9 L390.3,262.0 L392.1,262.0 L393.9,262.1 L395.7,262.2 L397.5,262.2 L399.3,262.3 L401.1,262.4 L402.8,262.4 L404.6,262.5 L406.4,262.6 L408.2,262.7 L410.0,262.8 L411.8,262.8 L413.5,262.9 L415.3,263.0 L417.1,263.1 L418.8,263.2 L420.6,263.3 L422.4,263.3 L424.1,263.4 L425.9,263.5 L427.7,263.6 L429.4,263.7 L431.2,263.8 L432.9,263.9 L434.7,264.0 L436.4,264.1 L438.2,264.2 L440.0,264.4 L441.8,264.5 L443.7,264.7 L445.6,264.8 L447.5,265.0 L449.4,265.2 L451.4,265.5 L453.5,265.7 L455.6,266.0 L457.3,266.2 L458.9,266.4 L460.6,266.7 L462.4,267.0 L464.1,267.2 L465.8,267.5 L467.9,268.0 L469.5,268.4 L471.0,269.1 L469.7,270.2 L468.1,270.7 L466.1,271.1 L464.5,271.4 L462.7,271.7 L461.0,272.0 L459.3,272.3 L457.6,272.6 L456.0,272.8 L454.4,273.1 L452.4,273.4 L450.4,273.7 L448.4,273.9 L446.5,274.2 L444.6,274.5 L442.8,274.7 L441.0,274.9 L439.2,275.1 L437.5,275.3 L435.8,275.6 L434.0,275.8 L432.3,276.0 L430.6,276.2 L428.9,276.4 L427.1,276.6 L425.4,276.8 L423.7,277.0 L421.9,277.3 L420.2,277.5 L418.4,277.7 L416.7,277.9 L414.9,278.2 L413.1,278.4 L411.4,278.7 L409.6,278.9 L407.8,279.1 L406.1,279.4 L404.3,279.7 L402.5,279.9 L400.7,280.2 L398.9,280.4 L397.1,280.7 L395.3,281.0 L393.6,281.2 L391.8,281.5 L390.0,281.8 L388.2,282.1 L386.4,282.3 L384.6,282.6 L382.8,282.9 L381.0,283.2 L379.2,283.5 L377.4,283.8 L375.6,284.1 L373.7,284.4 L371.9,284.7 L370.1,285.0 L368.3,285.3 L366.5,285.6 L364.7,285.9 L362.9,286.2 L361.1,286.5 L359.3,286.8 L357.5,287.1 L355.7,287.4 L353.9,287.7 L352.1,288.0 L350.3,288.4 L348.5,288.7 L346.6,289.0 L344.8,289.3 L343.0,289.6 L341.2,289.9 L339.4,290.2 L337.6,290.5 L335.8,290.8 L334.0,291.1 L332.2,291.4 L330.4,291.7 L328.6,292.0 L326.8,292.3 L325.0,292.6 L323.2,292.9 L321.4,293.1 L319.6,293.4 L317.8,293.7 L316.0,294.0 L314.2,294.3 L312.3,294.6 L310.5,294.9 L308.7,295.2 L306.9,295.5 L305.1,295.8 L303.3,296.1 L301.5,296.3 L299.7,296.6 L297.9,296.9 L296.1,297.2 L294.3,297.5 L292.5,297.8 L290.7,298.1 L288.9,298.4 L287.1,298.7 L285.3,299.0 L283.5,299.3 L281.7,299.6 L279.9,299.9 L278.1,300.2 L276.3,300.5 L274.5,300.8 L272.7,301.1 L270.9,301.4 L269.1,301.8 L267.4,302.1 L265.6,302.4 L263.8,302.7 L262.0,303.0 L260.2,303.4 L258.4,303.7 L256.6,304.0 L254.8,304.4 L253.0,304.7 L251.2,305.0 L249.4,305.4 L247.6,305.7 L245.8,306.1 L244.1,306.4 L242.3,306.8 L240.5,307.1 L238.7,307.5 L236.9,307.9 L235.1,308.2 L233.3,308.6 L231.6,309.0 L229.8,309.4 L228.0,309.7 L226.2,310.1 L224.4,310.5 L222.6,310.9 L220.9,311.3 L219.1,311.7 L217.3,312.1 L215.5,312.6 L213.7,313.0 L212.0,313.4 L210.2,313.8 L208.4,314.3 L206.6,314.7 L204.9,315.2 L203.1,315.6 L201.3,316.1 L199.5,316.5 L197.8,317.0 L196.0,317.5 L194.2,317.9 L192.5,318.4 L190.7,318.9 L188.9,319.4 L187.2,319.9 L185.4,320.4 L183.6,321.0 L181.9,321.5 L180.1,322.0 L178.3,322.5 L176.6,323.1 L174.8,323.6 L173.1,324.2 L171.3,324.7 L169.6,325.3 L167.8,325.8 L166.1,326.4 L164.3,327.0 L162.6,327.6 L160.9,328.2 L159.2,328.7 L157.4,329.3 L155.7,329.9 L154.0,330.5 L152.3,331.1 L150.6,331.7 L148.9,332.4 L147.2,333.0 L145.6,333.6 L143.9,334.2 L142.2,334.8 L140.6,335.5 L138.9,336.1 L137.3,336.8 L135.7,337.5 L134.1,338.3 L132.5,339.0 L130.9,339.9 L129.3,340.8 L127.7,341.7 L126.1,342.7 L124.6,343.8 L123.1,345.0 L121.6,346.3 L120.1,347.6 L118.6,349.0 L117.2,350.5 L115.9,352.0 L114.7,353.6 L113.6,355.2 L112.6,356.8 L111.8,358.5 L111.1,360.2 L110.6,361.8 L110.2,363.5 L110.1,365.1 L110.2,366.7 L110.6,368.3 L111.1,369.9 L111.8,371.4 L112.6,372.9 L113.6,374.4 L114.8,375.8 L116.0,377.2 L117.3,378.6 L118.7,379.9 L120.2,381.2 L121.7,382.4 L123.3,383.6 L124.9,384.8 L126.4,385.9 L128.0,387.0 L129.6,388.1 L131.2,389.1 L132.9,390.1 L134.5,391.0 L136.1,392.0 L137.8,392.8 L139.5,393.7 L141.1,394.5 L142.8,395.3 L144.5,396.1 L146.2,396.8 L147.9,397.5 L149.6,398.2 L151.3,398.8 L153.0,399.5 L154.8,400.1 L156.5,400.7 L158.3,401.2 L160.0,401.8 L161.8,402.3 L163.5,402.8 L165.3,403.3 L167.1,403.8 L168.8,404.2 L170.6,404.7 L172.4,405.1 L174.2,405.6 L176.0,406.0 L177.8,406.4 L179.6,406.8 L181.4,407.1 L183.2,407.5 L185.0,407.9 L186.8,408.3 L188.6,408.6 L190.4,409.0 L192.2,409.3 L194.0,409.7 L195.8,410.0 L197.6,410.4 L199.4,410.7 L201.2,411.1 L203.0,411.4 L204.8,411.7 L206.6,412.1 L208.4,412.4 L210.2,412.7 L212.0,413.1 L213.8,413.4 L215.6,413.7 L217.4,414.1 L219.2,414.4 L221.1,414.7 L222.9,415.0 L224.7,415.3 L226.5,415.6 L228.3,415.9 L230.1,416.3 L231.9,416.6 L233.7,416.9 L235.5,417.2 L237.3,417.5 L239.1,417.8 L241.0,418.1 L242.8,418.4 L244.6,418.6 L246.4,418.9 L248.2,419.2 L250.0,419.5 L251.8,419.8 L253.6,420.0 L255.4,420.3 L257.3,420.6 L259.1,420.9 L260.9,421.1 L262.7,421.4 L264.5,421.7 L266.3,421.9 L268.1,422.2 L270.0,422.4 L271.8,422.7 L273.6,422.9 L275.4,423.2 L277.2,423.5 L279.0,423.7 L280.8,424.0 L282.7,424.2 L284.5,424.4 L286.3,424.7 L288.1,424.9 L289.9,425.2 L291.7,425.4 L293.6,425.6 L295.4,425.9 L297.2,426.1 L299.0,426.3 L300.8,426.6 L302.7,426.8 L304.5,427.0 L306.3,427.2 L308.1,427.5 L309.9,427.7 L311.8,427.9 L313.6,428.1 L315.4,428.3 L317.2,428.6 L319.0,428.8 L320.9,429.0 L322.7,429.2 L324.5,429.4 L326.3,429.6 L328.1,429.8 L330.0,430.0 L331.8,430.2 L333.6,430.4 L335.4,430.6 L337.2,430.8 L339.1,431.0 L340.9,431.2 L342.7,431.4 L344.5,431.6 L346.4,431.8 L348.2,432.0 L350.0,432.2 L351.8,432.4 L353.6,432.6 L355.5,432.7 L357.3,432.9 L359.1,433.1 L360.9,433.3 L362.8,433.5 L364.6,433.6 L366.4,433.8 L368.2,434.0 L370.1,434.2 L371.9,434.4 L373.7,434.5 L375.5,434.7 L377.4,434.9 L379.2,435.0 L381.0,435.2 L382.8,435.4 L384.7,435.5 L386.5,435.7 L388.3,435.9 L390.1,436.0 L392.0,436.2 L393.8,436.3 L395.6,436.5 L397.5,436.7 L399.3,436.8 L401.1,437.0 L402.9,437.1 L404.8,437.3 L406.6,437.4 L408.4,437.6 L410.2,437.7 L412.1,437.9 L413.9,438.0 L415.7,438.2 L417.6,438.3 L419.4,438.5 L421.2,438.6 L423.0,438.8 L424.9,438.9 L426.7,439.1 L428.5,439.2 L430.3,439.3 L432.2,439.5 L434.0,439.6 L435.8,439.8 L437.7,439.9 L439.5,440.0 L441.3,440.2 L443.1,440.3 L445.0,440.4 L446.8,440.6 L448.6,440.7 L450.5,440.8 L452.3,441.0 L454.1,441.1 L456.0,441.2 L457.8,441.4 L459.6,441.5 L461.4,441.6 L463.3,441.8 L465.1,441.9 L466.9,442.0 L468.8,442.1 L470.6,442.3 L472.4,442.4 L474.2,442.5 L476.1,442.6 L477.9,442.7 L479.7,442.9 L481.6,443.0 L483.4,443.1 L485.2,443.2 L487.1,443.3 L488.9,443.5 L490.7,443.6 L492.5,443.7 L494.4,443.8 L496.2,443.9 L498.0,444.1 L499.9,444.2 L501.7,444.3 L503.5,444.4 L505.4,444.5 L507.2,444.6 L509.0,444.7 L510.9,444.9 L512.7,445.0 L514.5,445.1 L516.3,445.2 L518.2,445.3 L520.0,445.4 L521.8,445.5 L523.7,445.6 L525.5,445.8 L526.9,445.8" stroke="#e3000b" stroke-dasharray="10.5 9.5"/>
<path d="M44.6,258.3 L46.4,258.4 L48.2,258.4 L50.0,258.4 L51.8,258.4 L53.6,258.4 L55.4,258.4 L57.1,258.4 L58.9,258.4 L60.7,258.4 L62.5,258.4 L64.3,258.4 L66.1,258.4 L67.9,258.4 L69.7,258.5 L71.5,258.5 L73.3,258.5 L75.1,258.5 L76.9,258.5 L78.7,258.5 L80.5,258.5 L82.3,258.5 L84.1,258.5 L85.9,258.5 L87.7,258.5 L89.5,258.6 L91.3,258.6 L93.1,258.6 L94.9,258.6 L96.7,258.6 L98.5,258.6 L100.3,258.6 L102.1,258.6 L103.9,258.6 L105.7,258.7 L107.5,258.7 L109.3,258.7 L111.1,258.7 L112.9,258.7 L114.7,258.7 L116.4,258.7 L118.2,258.8 L120.0,258.8 L121.8,258.8 L123.6,258.8 L125.4,258.8 L127.2,258.8 L129.0,258.8 L130.8,258.9 L132.6,258.9 L134.4,258.9 L136.2,258.9 L138.0,258.9 L139.8,259.0 L141.6,259.0 L143.4,259.0 L145.1,259.0 L146.9,259.0 L148.7,259.0 L150.5,259.1 L152.3,259.1 L154.1,259.1 L155.9,259.1 L157.7,259.2 L159.5,259.2 L161.2,259.2 L163.0,259.2 L164.8,259.3 L166.6,259.3 L168.4,259.3 L170.2,259.3 L172.0,259.4 L173.7,259.4 L175.5,259.4 L177.3,259.4 L179.1,259.5 L180.9,259.5 L182.7,259.5 L184.4,259.6 L186.2,259.6 L188.0,259.6 L189.8,259.6 L191.6,259.7 L193.4,259.7 L195.2,259.7 L196.9,259.8 L198.7,259.8 L200.5,259.8 L202.3,259.9 L204.1,259.9 L205.9,259.9 L207.6,259.9 L209.4,260.0 L211.2,260.0 L213.0,260.0 L214.8,260.1 L216.6,260.1 L218.4,260.1 L220.2,260.2 L221.9,260.2 L223.7,260.2 L225.5,260.3 L227.3,260.3 L229.1,260.3 L230.9,260.4 L232.7,260.4 L234.5,260.4 L236.3,260.5 L238.1,260.5 L239.9,260.5 L241.6,260.6 L243.4,260.6 L245.2,260.6 L247.0,260.6 L248.8,260.7 L250.6,260.7 L252.4,260.7 L254.2,260.8 L256.0,260.8 L257.8,260.8 L259.6,260.9 L261.4,260.9 L263.2,260.9 L265.0,261.0 L266.8,261.0 L268.6,261.0 L270.4,261.0 L272.2,261.1 L274.1,261.1 L275.9,261.1 L277.7,261.2 L279.5,261.2 L281.3,261.2 L283.1,261.3 L284.9,261.3 L286.7,261.3 L288.5,261.4 L290.3,261.4 L292.1,261.4 L293.9,261.5 L295.7,261.5 L297.5,261.5 L299.3,261.6 L301.1,261.6 L302.9,261.6 L304.7,261.7 L306.5,261.7 L308.3,261.7 L310.1,261.8 L311.9,261.8 L313.7,261.9 L315.5,261.9 L317.3,261.9 L319.1,262.0 L320.9,262.0 L322.7,262.1 L324.5,262.1 L326.3,262.2 L328.1,262.2 L329.9,262.2 L331.7,262.3 L333.5,262.3 L335.3,262.4 L337.1,262.4 L338.9,262.5 L340.7,262.5 L342.4,262.6 L344.2,262.6 L346.0,262.7 L347.8,262.8 L349.6,262.8 L351.3,262.9 L353.1,262.9 L354.9,263.0 L356.7,263.0 L358.4,263.1 L360.2,263.2 L362.0,263.2 L363.7,263.3 L365.5,263.4 L367.3,263.4 L369.0,263.5 L370.8,263.6 L372.6,263.6 L374.3,263.7 L376.1,263.8 L377.8,263.9 L379.6,264.0 L381.3,264.0 L383.1,264.1 L384.8,264.2 L386.5,264.3 L388.3,264.4 L390.0,264.5 L391.7,264.5 L393.5,264.6 L395.2,264.7 L396.9,264.8 L398.7,264.9 L400.4,265.0 L402.1,265.1 L403.8,265.2 L405.5,265.3 L407.2,265.4 L409.0,265.5 L410.7,265.7 L412.5,265.8 L414.3,265.9 L416.1,266.1 L417.9,266.3 L419.8,266.5 L421.7,266.7 L423.7,266.9 L425.7,267.2 L427.8,267.5 L429.4,267.7 L431.0,267.9 L432.7,268.2 L434.4,268.5 L436.1,268.8 L437.7,269.1 L439.7,269.5 L441.4,270.0 L442.9,270.8 L441.5,271.8 L440.0,272.3 L438.0,272.7 L436.4,273.0 L434.7,273.4 L432.9,273.6 L431.3,273.9 L429.6,274.2 L428.1,274.5 L426.0,274.8 L424.0,275.1 L422.0,275.4 L420.1,275.6 L418.3,275.9 L416.4,276.1 L414.6,276.4 L412.9,276.6 L411.2,276.8 L409.4,277.0 L407.7,277.2 L406.0,277.5 L404.3,277.7 L402.7,277.9 L401.0,278.1 L399.3,278.3 L397.6,278.5 L395.8,278.7 L394.1,279.0 L392.4,279.2 L390.7,279.4 L389.0,279.7 L387.2,279.9 L385.5,280.1 L383.8,280.4 L382.0,280.6 L380.3,280.9 L378.5,281.1 L376.8,281.4 L375.1,281.6 L373.3,281.9 L371.5,282.2 L369.8,282.4 L368.0,282.7 L366.3,283.0 L364.5,283.2 L362.7,283.5 L361.0,283.8 L359.2,284.1 L357.4,284.4 L355.7,284.6 L353.9,284.9 L352.1,285.2 L350.3,285.5 L348.6,285.8 L346.8,286.1 L345.0,286.4 L343.2,286.7 L341.5,287.0 L339.7,287.3 L337.9,287.6 L336.1,288.0 L334.4,288.3 L332.6,288.6 L330.8,288.9 L329.0,289.2 L327.3,289.5 L325.5,289.8 L323.7,290.1 L321.9,290.4 L320.2,290.7 L318.4,291.0 L316.6,291.3 L314.8,291.6 L313.1,291.9 L311.3,292.2 L309.5,292.5 L307.7,292.8 L306.0,293.1 L304.2,293.4 L302.4,293.7 L300.6,294.0 L298.9,294.3 L297.1,294.6 L295.3,294.9 L293.6,295.1 L291.8,295.4 L290.0,295.7 L288.2,296.0 L286.5,296.3 L284.7,296.6 L282.9,296.9 L281.2,297.2 L279.4,297.4 L277.6,297.7 L275.8,298.0 L274.1,298.3 L272.3,298.6 L270.5,298.9 L268.8,299.2 L267.0,299.5 L265.2,299.8 L263.5,300.1 L261.7,300.4 L259.9,300.7 L258.2,300.9 L256.4,301.2 L254.6,301.5 L252.9,301.8 L251.1,302.2 L249.3,302.5 L247.6,302.8 L245.8,303.1 L244.0,303.4 L242.3,303.7 L240.5,304.0 L238.7,304.3 L237.0,304.7 L235.2,305.0 L233.5,305.3 L231.7,305.6 L229.9,306.0 L228.2,306.3 L226.4,306.6 L224.7,307.0 L222.9,307.3 L221.1,307.7 L219.4,308.0 L217.6,308.4 L215.9,308.7 L214.1,309.1 L212.4,309.4 L210.6,309.8 L208.8,310.2 L207.1,310.5 L205.3,310.9 L203.6,311.3 L201.8,311.7 L200.1,312.1 L198.3,312.5 L196.6,312.9 L194.8,313.3 L193.1,313.7 L191.3,314.1 L189.6,314.5 L187.8,314.9 L186.1,315.4 L184.3,315.8 L182.6,316.2 L180.9,316.7 L179.1,317.1 L177.4,317.6 L175.6,318.0 L173.9,318.5 L172.1,319.0 L170.4,319.4 L168.7,319.9 L166.9,320.4 L165.2,320.9 L163.4,321.4 L161.7,321.9 L160.0,322.4 L158.2,322.9 L156.5,323.5 L154.8,324.0 L153.0,324.5 L151.3,325.1 L149.6,325.6 L147.9,326.2 L146.2,326.7 L144.4,327.3 L142.7,327.9 L141.0,328.4 L139.3,329.0 L137.6,329.6 L135.9,330.2 L134.2,330.8 L132.6,331.3 L130.9,331.9 L129.2,332.5 L127.5,333.1 L125.9,333.8 L124.2,334.4 L122.6,335.0 L120.9,335.6 L119.3,336.2 L117.7,336.9 L116.0,337.5 L114.4,338.2 L112.8,338.9 L111.3,339.6 L109.7,340.4 L108.1,341.3 L106.5,342.2 L105.0,343.1 L103.5,344.2 L101.9,345.3 L100.4,346.4 L98.9,347.7 L97.5,349.1 L96.0,350.5 L94.7,351.9 L93.4,353.5 L92.2,355.0 L91.1,356.6 L90.2,358.3 L89.4,359.9 L88.7,361.6 L88.3,363.2 L88.0,364.8 L87.9,366.5 L88.1,368.4 L88.5,370.0 L89.1,371.5 L89.8,373.0 L90.7,374.5 L91.8,375.9 L92.9,377.3 L94.2,378.7 L95.5,380.0 L96.9,381.3 L98.4,382.5 L99.9,383.8 L101.4,384.9 L102.9,386.1 L104.4,387.2 L106.0,388.2 L107.6,389.3 L109.1,390.2 L110.7,391.2 L112.3,392.1 L113.9,393.0 L115.5,393.9 L117.1,394.7 L118.8,395.5 L120.4,396.3 L122.1,397.0 L123.7,397.7 L125.4,398.4 L127.1,399.1 L128.7,399.7 L130.4,400.3 L132.1,400.9 L133.8,401.5 L135.5,402.0 L137.2,402.6 L138.9,403.1 L140.7,403.6 L142.4,404.1 L144.1,404.5 L145.9,405.0 L147.6,405.4 L149.3,405.8 L151.1,406.3 L152.8,406.7 L154.6,407.1 L156.3,407.4 L158.1,407.8 L159.9,408.2 L161.6,408.6 L163.4,408.9 L165.1,409.3 L166.9,409.6 L168.7,410.0 L170.4,410.3 L172.2,410.7 L173.9,411.0 L175.7,411.4 L177.5,411.7 L179.2,412.0 L181.0,412.4 L182.8,412.7 L184.5,413.0 L186.3,413.4 L188.0,413.7 L189.8,414.0 L191.6,414.3 L193.3,414.7 L195.1,415.0 L196.9,415.3 L198.6,415.6 L200.4,415.9 L202.2,416.2 L203.9,416.5 L205.7,416.8 L207.5,417.1 L209.3,417.4 L211.0,417.7 L212.8,418.0 L214.6,418.3 L216.3,418.6 L218.1,418.9 L219.9,419.2 L221.6,419.5 L223.4,419.8 L225.2,420.0 L226.9,420.3 L228.7,420.6 L230.5,420.9 L232.3,421.1 L234.0,421.4 L235.8,421.7 L237.6,421.9 L239.4,422.2 L241.1,422.4 L242.9,422.7 L244.7,423.0 L246.4,423.2 L248.2,423.5 L250.0,423.7 L251.8,424.0 L253.5,424.2 L255.3,424.5 L257.1,424.7 L258.9,424.9 L260.6,425.2 L262.4,425.4 L264.2,425.7 L266.0,425.9 L267.7,426.1 L269.5,426.4 L271.3,426.6 L273.1,426.8 L274.9,427.0 L276.6,427.3 L278.4,427.5 L280.2,427.7 L282.0,427.9 L283.7,428.2 L285.5,428.4 L287.3,428.6 L289.1,428.8 L290.9,429.0 L292.6,429.2 L294.4,429.4 L296.2,429.6 L298.0,429.9 L299.8,430.1 L301.5,430.3 L303.3,430.5 L305.1,430.7 L306.9,430.9 L308.7,431.1 L310.4,431.3 L312.2,431.5 L314.0,431.6 L315.8,431.8 L317.6,432.0 L319.4,432.2 L321.1,432.4 L322.9,432.6 L324.7,432.8 L326.5,433.0 L328.3,433.2 L330.1,433.3 L331.8,433.5 L333.6,433.7 L335.4,433.9 L337.2,434.0 L339.0,434.2 L340.8,434.4 L342.5,434.6 L344.3,434.7 L346.1,434.9 L347.9,435.1 L349.7,435.3 L351.5,435.4 L353.2,435.6 L355.0,435.8 L356.8,435.9 L358.6,436.1 L360.4,436.2 L362.2,436.4 L364.0,436.6 L365.7,436.7 L367.5,436.9 L369.3,437.0 L371.1,437.2 L372.9,437.3 L374.7,437.5 L376.5,437.7 L378.2,437.8 L380.0,438.0 L381.8,438.1 L383.6,438.3 L385.4,438.4 L387.2,438.5 L389.0,438.7 L390.8,438.8 L392.5,439.0 L394.3,439.1 L396.1,439.3 L397.9,439.4 L399.7,439.5 L401.5,439.7 L403.3,439.8 L405.1,440.0 L406.8,440.1 L408.6,440.2 L410.4,440.4 L412.2,440.5 L414.0,440.6 L415.8,440.8 L417.6,440.9 L419.4,441.0 L421.2,441.2 L422.9,441.3 L424.7,441.4 L426.5,441.6 L428.3,441.7 L430.1,441.8 L431.9,441.9 L433.7,442.1 L435.5,442.2 L437.3,442.3 L439.0,442.4 L440.8,442.6 L442.6,442.7 L444.4,442.8 L446.2,442.9 L448.0,443.1 L449.8,443.2 L451.6,443.3 L453.4,443.4 L455.2,443.5 L456.9,443.6 L458.7,443.8 L460.5,443.9 L462.3,444.0 L464.1,444.1 L465.9,444.2 L467.7,444.3 L469.5,444.5 L471.3,444.6 L473.0,444.7 L474.8,444.8 L476.6,444.9 L478.4,445.0 L480.2,445.1 L482.0,445.2 L483.8,445.4 L485.6,445.5 L487.4,445.6 L489.2,445.7 L490.9,445.8 L492.7,445.9 L494.5,446.0 L496.3,446.1 L498.1,446.2 L499.9,446.3 L501.7,446.5 L503.5,446.6 L505.3,446.7 L507.1,446.8 L508.8,446.9 L510.6,447.0 L512.4,447.1 L514.2,447.2 L516.0,447.3 L517.8,447.4 L519.6,447.5 L521.4,447.6 L523.2,447.7 L525.0,447.9 L526.7,448.0 L526.7,448.0" stroke="#1515b0" stroke-dasharray="3.8 8.6"/>
<path d="M44.7,259.6 L46.4,259.7 L48.2,259.7 L50.0,259.7 L51.7,259.7 L53.5,259.7 L55.2,259.7 L57.0,259.7 L58.8,259.7 L60.5,259.7 L62.3,259.7 L64.1,259.7 L65.8,259.7 L67.6,259.8 L69.3,259.8 L71.1,259.8 L72.9,259.8 L74.6,259.8 L76.4,259.8 L78.1,259.8 L79.9,259.8 L81.7,259.8 L83.4,259.9 L85.2,259.9 L87.0,259.9 L88.7,259.9 L90.5,259.9 L92.2,259.9 L94.0,259.9 L95.8,259.9 L97.5,260.0 L99.3,260.0 L101.0,260.0 L102.8,260.0 L104.6,260.0 L106.3,260.0 L108.1,260.0 L109.8,260.1 L111.6,260.1 L113.3,260.1 L115.1,260.1 L116.9,260.1 L118.6,260.2 L120.4,260.2 L122.1,260.2 L123.9,260.2 L125.6,260.2 L127.4,260.2 L129.1,260.3 L130.9,260.3 L132.6,260.3 L134.4,260.3 L136.2,260.4 L137.9,260.4 L139.7,260.4 L141.4,260.4 L143.2,260.5 L144.9,260.5 L146.7,260.5 L148.4,260.5 L150.2,260.6 L151.9,260.6 L153.7,260.6 L155.4,260.6 L157.2,260.7 L158.9,260.7 L160.7,260.7 L162.4,260.7 L164.2,260.8 L165.9,260.8 L167.7,260.8 L169.4,260.9 L171.2,260.9 L172.9,260.9 L174.6,260.9 L176.4,261.0 L178.1,261.0 L179.9,261.0 L181.6,261.1 L183.4,261.1 L185.1,261.1 L186.9,261.2 L188.6,261.2 L190.4,261.2 L192.1,261.2 L193.9,261.3 L195.7,261.3 L197.4,261.3 L199.2,261.4 L200.9,261.4 L202.7,261.4 L204.4,261.5 L206.2,261.5 L207.9,261.5 L209.7,261.6 L211.4,261.6 L213.2,261.6 L215.0,261.7 L216.7,261.7 L218.5,261.7 L220.2,261.7 L222.0,261.8 L223.8,261.8 L225.5,261.8 L227.3,261.9 L229.0,261.9 L230.8,261.9 L232.6,262.0 L234.3,262.0 L236.1,262.0 L237.9,262.0 L239.6,262.1 L241.4,262.1 L243.2,262.1 L244.9,262.2 L246.7,262.2 L248.5,262.2 L250.2,262.2 L252.0,262.3 L253.8,262.3 L255.5,262.3 L257.3,262.4 L259.1,262.4 L260.9,262.4 L262.6,262.5 L264.4,262.5 L266.2,262.5 L267.9,262.6 L269.7,262.6 L271.5,262.6 L273.2,262.7 L275.0,262.7 L276.8,262.7 L278.5,262.8 L280.3,262.8 L282.1,262.8 L283.8,262.9 L285.6,262.9 L287.4,262.9 L289.1,263.0 L290.9,263.0 L292.7,263.1 L294.4,263.1 L296.2,263.1 L298.0,263.2 L299.7,263.2 L301.5,263.3 L303.2,263.3 L305.0,263.4 L306.7,263.4 L308.5,263.4 L310.3,263.5 L312.0,263.5 L313.8,263.6 L315.5,263.6 L317.3,263.7 L319.0,263.7 L320.7,263.8 L322.5,263.9 L324.2,263.9 L326.0,264.0 L327.7,264.0 L329.5,264.1 L331.2,264.1 L332.9,264.2 L334.7,264.3 L336.4,264.3 L338.1,264.4 L339.9,264.5 L341.6,264.5 L343.3,264.6 L345.0,264.7 L346.8,264.7 L348.5,264.8 L350.2,264.9 L351.9,264.9 L353.6,265.0 L355.3,265.1 L357.0,265.2 L358.7,265.3 L360.4,265.3 L362.1,265.4 L363.8,265.5 L365.5,265.6 L367.2,265.7 L368.9,265.8 L370.6,265.9 L372.3,266.0 L374.0,266.1 L375.7,266.2 L377.4,266.3 L379.0,266.4 L380.7,266.5 L382.4,266.6 L384.1,266.7 L385.9,266.8 L387.6,267.0 L389.4,267.1 L391.2,267.3 L393.1,267.5 L395.0,267.7 L397.0,268.0 L399.0,268.2 L401.0,268.5 L403.1,268.8 L404.8,269.1 L406.4,269.4 L408.1,269.6 L409.7,269.9 L411.7,270.4 L413.3,270.8 L414.8,271.6 L413.4,272.6 L411.9,273.1 L409.9,273.5 L408.3,273.8 L406.6,274.1 L405.0,274.4 L403.3,274.7 L401.7,275.0 L399.6,275.3 L397.6,275.6 L395.7,275.9 L393.8,276.2 L391.9,276.4 L390.1,276.7 L388.3,276.9 L386.6,277.1 L384.8,277.4 L383.1,277.6 L381.5,277.8 L379.8,278.0 L378.1,278.2 L376.5,278.4 L374.8,278.6 L373.1,278.8 L371.5,279.0 L369.8,279.2 L368.1,279.5 L366.4,279.7 L364.7,279.9 L363.1,280.1 L361.4,280.4 L359.7,280.6 L358.0,280.8 L356.3,281.1 L354.5,281.3 L352.8,281.6 L351.1,281.8 L349.4,282.1 L347.7,282.3 L346.0,282.6 L344.2,282.8 L342.5,283.1 L340.8,283.4 L339.0,283.6 L337.3,283.9 L335.6,284.2 L333.8,284.4 L332.1,284.7 L330.4,285.0 L328.6,285.3 L326.9,285.6 L325.1,285.8 L323.4,286.1 L321.7,286.4 L319.9,286.7 L318.2,287.0 L316.4,287.3 L314.7,287.6 L312.9,287.9 L311.2,288.2 L309.5,288.5 L307.7,288.8 L306.0,289.1 L304.2,289.4 L302.5,289.8 L300.7,290.1 L299.0,290.4 L297.3,290.7 L295.5,291.0 L293.8,291.3 L292.0,291.6 L290.3,291.9 L288.5,292.2 L286.8,292.5 L285.1,292.8 L283.3,293.1 L281.6,293.4 L279.8,293.7 L278.1,294.0 L276.3,294.2 L274.6,294.5 L272.9,294.8 L271.1,295.1 L269.4,295.4 L267.6,295.7 L265.9,296.0 L264.2,296.3 L262.4,296.6 L260.7,296.8 L258.9,297.1 L257.2,297.4 L255.5,297.7 L253.7,298.0 L252.0,298.3 L250.2,298.6 L248.5,298.9 L246.8,299.1 L245.0,299.4 L243.3,299.7 L241.6,300.0 L239.8,300.3 L238.1,300.6 L236.3,300.9 L234.6,301.2 L232.9,301.5 L231.1,301.8 L229.4,302.1 L227.7,302.4 L225.9,302.7 L224.2,303.0 L222.5,303.3 L220.7,303.6 L219.0,303.9 L217.3,304.2 L215.5,304.6 L213.8,304.9 L212.1,305.2 L210.4,305.5 L208.6,305.8 L206.9,306.2 L205.2,306.5 L203.4,306.8 L201.7,307.2 L200.0,307.5 L198.3,307.9 L196.5,308.2 L194.8,308.5 L193.1,308.9 L191.3,309.3 L189.6,309.6 L187.9,310.0 L186.2,310.3 L184.5,310.7 L182.7,311.1 L181.0,311.5 L179.3,311.9 L177.6,312.2 L175.8,312.6 L174.1,313.0 L172.4,313.4 L170.7,313.8 L169.0,314.2 L167.3,314.7 L165.5,315.1 L163.8,315.5 L162.1,315.9 L160.4,316.4 L158.7,316.8 L157.0,317.2 L155.2,317.7 L153.5,318.1 L151.8,318.6 L150.1,319.1 L148.4,319.5 L146.7,320.0 L145.0,320.5 L143.3,321.0 L141.6,321.5 L139.8,322.0 L138.1,322.5 L136.4,323.0 L134.7,323.5 L133.0,324.0 L131.3,324.6 L129.6,325.1 L127.9,325.7 L126.2,326.2 L124.5,326.8 L122.9,327.3 L121.2,327.9 L119.5,328.4 L117.8,329.0 L116.1,329.6 L114.5,330.2 L112.8,330.8 L111.1,331.3 L109.5,331.9 L107.8,332.5 L106.2,333.1 L104.6,333.7 L102.9,334.3 L101.3,335.0 L99.7,335.6 L98.1,336.2 L96.5,336.8 L94.9,337.4 L93.3,338.1 L91.7,338.8 L90.1,339.5 L88.6,340.3 L87.0,341.1 L85.5,341.9 L83.9,342.8 L82.4,343.8 L80.9,344.9 L79.4,346.0 L77.9,347.2 L76.4,348.5 L75.0,349.8 L73.6,351.3 L72.3,352.7 L71.0,354.3 L69.9,355.9 L68.8,357.5 L67.9,359.1 L67.1,360.7 L66.5,362.4 L66.1,364.0 L65.8,365.7 L65.8,367.3 L66.1,369.3 L66.5,370.8 L67.1,372.3 L67.8,373.8 L68.7,375.3 L69.8,376.7 L70.9,378.1 L72.1,379.4 L73.4,380.7 L74.8,382.0 L76.2,383.3 L77.7,384.5 L79.2,385.6 L80.7,386.8 L82.2,387.8 L83.7,388.9 L85.2,389.9 L86.7,390.9 L88.3,391.8 L89.8,392.7 L91.4,393.6 L92.9,394.5 L94.5,395.3 L96.1,396.1 L97.7,396.8 L99.3,397.6 L100.9,398.3 L102.6,399.0 L104.2,399.6 L105.8,400.2 L107.5,400.9 L109.1,401.4 L110.8,402.0 L112.5,402.5 L114.1,403.1 L115.8,403.6 L117.5,404.1 L119.2,404.6 L120.9,405.0 L122.6,405.5 L124.3,405.9 L126.0,406.3 L127.7,406.7 L129.4,407.1 L131.1,407.5 L132.8,407.9 L134.5,408.3 L136.2,408.6 L138.0,409.0 L139.7,409.4 L141.4,409.7 L143.1,410.1 L144.8,410.4 L146.6,410.8 L148.3,411.1 L150.0,411.4 L151.7,411.8 L153.4,412.1 L155.2,412.5 L156.9,412.8 L158.6,413.1 L160.3,413.5 L162.1,413.8 L163.8,414.1 L165.5,414.4 L167.2,414.8 L169.0,415.1 L170.7,415.4 L172.4,415.7 L174.1,416.0 L175.9,416.3 L177.6,416.6 L179.3,416.9 L181.0,417.2 L182.8,417.5 L184.5,417.8 L186.2,418.1 L188.0,418.4 L189.7,418.7 L191.4,419.0 L193.1,419.3 L194.9,419.6 L196.6,419.9 L198.3,420.1 L200.1,420.4 L201.8,420.7 L203.5,421.0 L205.2,421.2 L207.0,421.5 L208.7,421.8 L210.4,422.0 L212.2,422.3 L213.9,422.5 L215.6,422.8 L217.4,423.1 L219.1,423.3 L220.8,423.6 L222.6,423.8 L224.3,424.1 L226.0,424.3 L227.8,424.5 L229.5,424.8 L231.2,425.0 L233.0,425.3 L234.7,425.5 L236.4,425.7 L238.2,426.0 L239.9,426.2 L241.7,426.4 L243.4,426.7 L245.1,426.9 L246.9,427.1 L248.6,427.4 L250.3,427.6 L252.1,427.8 L253.8,428.0 L255.5,428.2 L257.3,428.5 L259.0,428.7 L260.8,428.9 L262.5,429.1 L264.2,429.3 L266.0,429.5 L267.7,429.7 L269.5,429.9 L271.2,430.1 L272.9,430.3 L274.7,430.5 L276.4,430.7 L278.2,430.9 L279.9,431.1 L281.6,431.3 L283.4,431.5 L285.1,431.7 L286.9,431.9 L288.6,432.1 L290.3,432.3 L292.1,432.5 L293.8,432.7 L295.6,432.9 L297.3,433.0 L299.1,433.2 L300.8,433.4 L302.5,433.6 L304.3,433.8 L306.0,433.9 L307.8,434.1 L309.5,434.3 L311.3,434.5 L313.0,434.6 L314.7,434.8 L316.5,435.0 L318.2,435.2 L320.0,435.3 L321.7,435.5 L323.5,435.7 L325.2,435.8 L327.0,436.0 L328.7,436.2 L330.4,436.3 L332.2,436.5 L333.9,436.6 L335.7,436.8 L337.4,436.9 L339.2,437.1 L340.9,437.3 L342.7,437.4 L344.4,437.6 L346.2,437.7 L347.9,437.9 L349.7,438.0 L351.4,438.2 L353.1,438.3 L354.9,438.5 L356.6,438.6 L358.4,438.8 L360.1,438.9 L361.9,439.0 L363.6,439.2 L365.4,439.3 L367.1,439.5 L368.9,439.6 L370.6,439.8 L372.4,439.9 L374.1,440.0 L375.9,440.2 L377.6,440.3 L379.4,440.4 L381.1,440.6 L382.9,440.7 L384.6,440.8 L386.4,441.0 L388.1,441.1 L389.9,441.2 L391.6,441.4 L393.3,441.5 L395.1,441.6 L396.8,441.7 L398.6,441.9 L400.3,442.0 L402.1,442.1 L403.8,442.3 L405.6,442.4 L407.3,442.5 L409.1,442.6 L410.8,442.7 L412.6,442.9 L414.3,443.0 L416.1,443.1 L417.8,443.2 L419.6,443.3 L421.3,443.5 L423.1,443.6 L424.8,443.7 L426.6,443.8 L428.3,443.9 L430.1,444.0 L431.8,444.2 L433.6,444.3 L435.3,444.4 L437.1,444.5 L438.8,444.6 L440.6,444.7 L442.3,444.8 L444.1,444.9 L445.8,445.1 L447.6,445.2 L449.3,445.3 L451.1,445.4 L452.8,445.5 L454.6,445.6 L456.3,445.7 L458.1,445.8 L459.8,445.9 L461.6,446.0 L463.3,446.2 L465.1,446.3 L466.8,446.4 L468.6,446.5 L470.3,446.6 L472.1,446.7 L473.8,446.8 L475.6,446.9 L477.3,447.0 L479.1,447.1 L480.8,447.2 L482.6,447.3 L484.3,447.4 L486.1,447.5 L487.8,447.6 L489.6,447.8 L491.3,447.9 L493.1,448.0 L494.8,448.1 L496.6,448.2 L498.3,448.3 L500.1,448.4 L501.8,448.5 L503.6,448.6 L505.3,448.7 L507.1,448.8 L508.8,448.9 L510.6,449.0 L512.3,449.1 L514.1,449.2 L515.8,449.3 L517.6,449.4 L519.3,449.5 L521.1,449.7 L522.8,449.8 L524.6,449.9 L526.3,450.0 L526.8,450.0" stroke="#138071" stroke-dasharray="12 5 3.5 5"/>
</g>
<rect x="64.25" y="243.0" width="442.75" height="218.0" fill="none" stroke="#000" stroke-width="3"/>
<path d="M84.37,461.0v-4.6M84.37,243.0v4.6M104.50,461.0v-7.8M104.50,243.0v7.8M124.62,461.0v-4.6M124.62,243.0v4.6M144.75,461.0v-7.8M144.75,243.0v7.8M164.88,461.0v-4.6M164.88,243.0v4.6M185.00,461.0v-7.8M185.00,243.0v7.8M205.13,461.0v-4.6M205.13,243.0v4.6M225.25,461.0v-7.8M225.25,243.0v7.8M245.38,461.0v-4.6M245.38,243.0v4.6M265.50,461.0v-7.8M265.50,243.0v7.8M285.63,461.0v-4.6M285.63,243.0v4.6M305.75,461.0v-7.8M305.75,243.0v7.8M325.87,461.0v-4.6M325.87,243.0v4.6M346.00,461.0v-7.8M346.00,243.0v7.8M366.12,461.0v-4.6M366.12,243.0v4.6M386.25,461.0v-7.8M386.25,243.0v7.8M406.38,461.0v-4.6M406.38,243.0v4.6M426.50,461.0v-7.8M426.50,243.0v7.8M446.63,461.0v-4.6M446.63,243.0v4.6M466.75,461.0v-7.8M466.75,243.0v7.8M486.88,461.0v-4.6M486.88,243.0v4.6M64.25,406.50h4.6M507.0,406.50h-4.6M64.25,352.00h7.8M507.0,352.00h-7.8M64.25,297.50h4.6M507.0,297.50h-4.6" stroke="#000" stroke-width="2.8" fill="none"/>
<text transform="translate(57.30,465.60) scale(1.03,1)" text-anchor="end" style="font-family:'Liberation Sans',Arial,sans-serif;font-weight:bold;font-size:18.6px">0.0</text>
<text transform="translate(57.30,356.60) scale(1.03,1)" text-anchor="end" style="font-family:'Liberation Sans',Arial,sans-serif;font-weight:bold;font-size:18.6px">0.5</text>
<text transform="translate(57.30,247.60) scale(1.03,1)" text-anchor="end" style="font-family:'Liberation Sans',Arial,sans-serif;font-weight:bold;font-size:18.6px">1.0</text>
<text transform="translate(19.1,350.18) rotate(-90)" text-anchor="middle" style="font-family:'Liberation Sans',Arial,sans-serif;font-weight:bold;font-size:25.6px">R</text>
<text x="76.5" y="289.8" style="font-family:'Liberation Sans',Arial,sans-serif;font-weight:bold;font-size:24px">(b)</text>
<g clip-path="url(#c2)" fill="none" stroke-width="2.5" stroke-linejoin="round">
<path d="M44.3,492.0 L46.2,492.0 L48.0,492.0 L49.9,492.0 L51.7,492.0 L53.6,492.0 L55.4,492.0 L57.3,492.0 L59.1,492.0 L61.0,492.0 L62.8,492.0 L64.7,492.1 L66.5,492.1 L68.3,492.1 L70.2,492.1 L72.0,492.1 L73.9,492.1 L75.7,492.1 L77.6,492.1 L79.4,492.1 L81.3,492.1 L83.1,492.1 L85.0,492.1 L86.8,492.1 L88.7,492.1 L90.5,492.2 L92.4,492.2 L94.2,492.2 L96.1,492.2 L98.0,492.2 L99.8,492.2 L101.7,492.2 L103.5,492.2 L105.4,492.2 L107.2,492.2 L109.1,492.2 L110.9,492.2 L112.8,492.3 L114.6,492.3 L116.5,492.3 L118.3,492.3 L120.2,492.3 L122.0,492.3 L123.9,492.3 L125.7,492.3 L127.6,492.3 L129.4,492.3 L131.3,492.4 L133.1,492.4 L135.0,492.4 L136.8,492.4 L138.7,492.4 L140.5,492.4 L142.4,492.4 L144.2,492.4 L146.1,492.5 L147.9,492.5 L149.8,492.5 L151.6,492.5 L153.5,492.5 L155.3,492.5 L157.2,492.5 L159.0,492.6 L160.9,492.6 L162.7,492.6 L164.6,492.6 L166.4,492.6 L168.3,492.6 L170.1,492.7 L172.0,492.7 L173.8,492.7 L175.7,492.7 L177.5,492.7 L179.4,492.8 L181.2,492.8 L183.0,492.8 L184.9,492.8 L186.7,492.8 L188.6,492.9 L190.4,492.9 L192.3,492.9 L194.1,492.9 L195.9,492.9 L197.8,493.0 L199.6,493.0 L201.5,493.0 L203.3,493.0 L205.1,493.1 L207.0,493.1 L208.8,493.1 L210.7,493.2 L212.5,493.2 L214.3,493.2 L216.2,493.2 L218.0,493.3 L219.9,493.3 L221.7,493.3 L223.5,493.3 L225.4,493.4 L227.2,493.4 L229.0,493.4 L230.9,493.5 L232.7,493.5 L234.6,493.5 L236.4,493.6 L238.2,493.6 L240.1,493.6 L241.9,493.7 L243.8,493.7 L245.6,493.7 L247.4,493.7 L249.3,493.8 L251.1,493.8 L253.0,493.8 L254.8,493.9 L256.6,493.9 L258.5,493.9 L260.3,494.0 L262.2,494.0 L264.0,494.0 L265.9,494.1 L267.7,494.1 L269.5,494.1 L271.4,494.2 L273.2,494.2 L275.1,494.2 L276.9,494.2 L278.8,494.3 L280.6,494.3 L282.5,494.3 L284.3,494.4 L286.2,494.4 L288.0,494.4 L289.9,494.5 L291.7,494.5 L293.6,494.5 L295.5,494.6 L297.3,494.6 L299.2,494.6 L301.0,494.6 L302.9,494.7 L304.7,494.7 L306.6,494.7 L308.5,494.8 L310.3,494.8 L312.2,494.8 L314.0,494.9 L315.9,494.9 L317.8,494.9 L319.6,495.0 L321.5,495.0 L323.3,495.0 L325.2,495.0 L327.1,495.1 L328.9,495.1 L330.8,495.1 L332.6,495.2 L334.5,495.2 L336.4,495.2 L338.2,495.3 L340.1,495.3 L341.9,495.3 L343.8,495.4 L345.6,495.4 L347.5,495.5 L349.4,495.5 L351.2,495.5 L353.1,495.6 L354.9,495.6 L356.8,495.7 L358.6,495.7 L360.5,495.7 L362.3,495.8 L364.2,495.8 L366.0,495.9 L367.9,495.9 L369.7,496.0 L371.6,496.0 L373.4,496.0 L375.3,496.1 L377.1,496.1 L379.0,496.2 L380.8,496.2 L382.6,496.3 L384.5,496.3 L386.3,496.4 L388.1,496.5 L390.0,496.5 L391.8,496.6 L393.6,496.6 L395.5,496.7 L397.3,496.7 L399.1,496.8 L400.9,496.9 L402.8,496.9 L404.6,497.0 L406.4,497.1 L408.2,497.1 L410.0,497.2 L411.8,497.3 L413.7,497.3 L415.5,497.4 L417.3,497.5 L419.1,497.6 L420.9,497.6 L422.7,497.7 L424.5,497.8 L426.3,497.9 L428.1,498.0 L429.9,498.0 L431.6,498.1 L433.4,498.2 L435.2,498.3 L437.0,498.4 L438.8,498.5 L440.6,498.6 L442.3,498.7 L444.1,498.8 L445.9,498.9 L447.6,499.0 L449.4,499.1 L451.2,499.2 L453.0,499.3 L454.8,499.5 L456.6,499.6 L458.5,499.8 L460.4,499.9 L462.3,500.1 L464.3,500.3 L466.3,500.6 L468.4,500.8 L470.0,501.0 L471.6,501.3 L473.3,501.5 L475.0,501.7 L476.7,502.0 L478.5,502.3 L480.2,502.6 L481.9,502.9 L483.8,503.4 L485.5,503.9 L484.7,505.4 L483.1,505.9 L481.1,506.3 L479.4,506.6 L477.6,506.9 L475.9,507.2 L474.1,507.5 L472.5,507.8 L470.8,508.0 L469.2,508.3 L467.1,508.6 L465.1,508.9 L463.1,509.2 L461.2,509.4 L459.3,509.7 L457.5,509.9 L455.6,510.1 L453.8,510.3 L452.1,510.6 L450.3,510.8 L448.6,511.0 L446.8,511.2 L445.1,511.4 L443.3,511.6 L441.6,511.8 L439.8,512.0 L438.1,512.2 L436.3,512.5 L434.5,512.7 L432.8,512.9 L431.0,513.1 L429.2,513.4 L427.4,513.6 L425.6,513.9 L423.8,514.1 L422.0,514.3 L420.2,514.6 L418.4,514.8 L416.6,515.1 L414.8,515.4 L413.0,515.6 L411.2,515.9 L409.4,516.2 L407.6,516.4 L405.8,516.7 L403.9,517.0 L402.1,517.2 L400.3,517.5 L398.5,517.8 L396.7,518.1 L394.8,518.4 L393.0,518.7 L391.2,519.0 L389.3,519.2 L387.5,519.5 L385.7,519.8 L383.9,520.1 L382.0,520.4 L380.2,520.8 L378.4,521.1 L376.5,521.4 L374.7,521.7 L372.9,522.0 L371.1,522.3 L369.2,522.6 L367.4,522.9 L365.6,523.2 L363.7,523.5 L361.9,523.8 L360.1,524.1 L358.2,524.4 L356.4,524.8 L354.6,525.1 L352.8,525.4 L350.9,525.7 L349.1,526.0 L347.3,526.3 L345.4,526.6 L343.6,526.8 L341.8,527.1 L340.0,527.4 L338.1,527.7 L336.3,528.0 L334.5,528.3 L332.6,528.6 L330.8,528.9 L329.0,529.2 L327.2,529.5 L325.3,529.8 L323.5,530.1 L321.7,530.3 L319.9,530.6 L318.0,530.9 L316.2,531.2 L314.4,531.5 L312.6,531.8 L310.7,532.1 L308.9,532.4 L307.1,532.7 L305.3,533.0 L303.4,533.3 L301.6,533.6 L299.8,533.9 L298.0,534.2 L296.2,534.5 L294.3,534.8 L292.5,535.1 L290.7,535.4 L288.9,535.7 L287.1,536.0 L285.2,536.3 L283.4,536.6 L281.6,536.9 L279.8,537.2 L278.0,537.5 L276.1,537.9 L274.3,538.2 L272.5,538.5 L270.7,538.8 L268.9,539.2 L267.1,539.5 L265.3,539.8 L263.4,540.2 L261.6,540.5 L259.8,540.9 L258.0,541.2 L256.2,541.6 L254.4,541.9 L252.6,542.3 L250.8,542.6 L248.9,543.0 L247.1,543.4 L245.3,543.7 L243.5,544.1 L241.7,544.5 L239.9,544.9 L238.1,545.3 L236.3,545.7 L234.5,546.1 L232.7,546.5 L230.9,546.9 L229.1,547.3 L227.3,547.7 L225.5,548.1 L223.7,548.5 L221.9,549.0 L220.1,549.4 L218.3,549.8 L216.5,550.3 L214.7,550.7 L212.9,551.2 L211.1,551.7 L209.3,552.1 L207.5,552.6 L205.7,553.1 L203.9,553.6 L202.1,554.0 L200.3,554.5 L198.5,555.0 L196.7,555.5 L194.9,556.1 L193.2,556.6 L191.4,557.1 L189.6,557.6 L187.8,558.2 L186.0,558.7 L184.2,559.2 L182.5,559.8 L180.7,560.4 L178.9,560.9 L177.2,561.5 L175.4,562.0 L173.6,562.6 L171.9,563.2 L170.1,563.8 L168.4,564.4 L166.7,565.0 L164.9,565.6 L163.2,566.2 L161.5,566.8 L159.8,567.4 L158.1,568.0 L156.4,568.6 L154.7,569.2 L153.0,569.8 L151.3,570.5 L149.6,571.1 L148.0,571.8 L146.3,572.5 L144.7,573.2 L143.0,574.0 L141.4,574.8 L139.8,575.7 L138.2,576.7 L136.6,577.7 L135.0,578.8 L133.5,579.9 L131.9,581.2 L130.4,582.5 L128.9,583.9 L127.5,585.3 L126.2,586.9 L124.9,588.4 L123.8,590.0 L122.8,591.6 L121.9,593.3 L121.2,594.9 L120.6,596.6 L120.3,598.2 L120.2,599.8 L120.3,601.8 L120.8,603.8 L121.4,605.3 L122.1,606.8 L123.1,608.2 L124.1,609.7 L125.3,611.1 L126.6,612.4 L128.0,613.7 L129.4,615.0 L130.9,616.3 L132.4,617.5 L134.0,618.7 L135.6,619.8 L137.1,620.9 L138.7,621.9 L140.3,623.0 L142.0,623.9 L143.6,624.9 L145.2,625.8 L146.9,626.7 L148.5,627.5 L150.2,628.4 L151.9,629.2 L153.6,629.9 L155.3,630.7 L157.0,631.4 L158.7,632.1 L160.4,632.7 L162.1,633.3 L163.9,634.0 L165.6,634.5 L167.4,635.1 L169.1,635.7 L170.9,636.2 L172.7,636.7 L174.4,637.2 L176.2,637.7 L178.0,638.1 L179.8,638.6 L181.6,639.0 L183.4,639.4 L185.2,639.9 L187.0,640.3 L188.8,640.6 L190.6,641.0 L192.4,641.4 L194.2,641.8 L196.0,642.1 L197.8,642.5 L199.6,642.8 L201.4,643.2 L203.2,643.5 L205.1,643.9 L206.9,644.2 L208.7,644.6 L210.5,644.9 L212.3,645.2 L214.1,645.6 L215.9,645.9 L217.8,646.2 L219.6,646.6 L221.4,646.9 L223.2,647.2 L225.0,647.5 L226.8,647.9 L228.7,648.2 L230.5,648.5 L232.3,648.8 L234.1,649.1 L235.9,649.4 L237.8,649.7 L239.6,650.0 L241.4,650.3 L243.2,650.6 L245.0,650.9 L246.9,651.2 L248.7,651.5 L250.5,651.8 L252.3,652.1 L254.1,652.4 L256.0,652.7 L257.8,653.0 L259.6,653.3 L261.4,653.5 L263.3,653.8 L265.1,654.1 L266.9,654.4 L268.7,654.6 L270.6,654.9 L272.4,655.2 L274.2,655.4 L276.0,655.7 L277.9,656.0 L279.7,656.2 L281.5,656.5 L283.3,656.8 L285.2,657.0 L287.0,657.3 L288.8,657.5 L290.6,657.8 L292.5,658.0 L294.3,658.3 L296.1,658.5 L298.0,658.8 L299.8,659.0 L301.6,659.2 L303.4,659.5 L305.3,659.7 L307.1,660.0 L308.9,660.2 L310.8,660.4 L312.6,660.6 L314.4,660.9 L316.3,661.1 L318.1,661.3 L319.9,661.6 L321.7,661.8 L323.6,662.0 L325.4,662.2 L327.2,662.4 L329.1,662.7 L330.9,662.9 L332.7,663.1 L334.6,663.3 L336.4,663.5 L338.2,663.7 L340.1,663.9 L341.9,664.1 L343.7,664.3 L345.6,664.5 L347.4,664.7 L349.2,664.9 L351.1,665.1 L352.9,665.3 L354.7,665.5 L356.6,665.7 L358.4,665.9 L360.2,666.1 L362.1,666.3 L363.9,666.5 L365.8,666.7 L367.6,666.9 L369.4,667.0 L371.3,667.2 L373.1,667.4 L374.9,667.6 L376.8,667.8 L378.6,667.9 L380.4,668.1 L382.3,668.3 L384.1,668.5 L386.0,668.6 L387.8,668.8 L389.6,669.0 L391.5,669.2 L393.3,669.3 L395.1,669.5 L397.0,669.7 L398.8,669.8 L400.7,670.0 L402.5,670.2 L404.3,670.3 L406.2,670.5 L408.0,670.6 L409.9,670.8 L411.7,671.0 L413.5,671.1 L415.4,671.3 L417.2,671.4 L419.1,671.6 L420.9,671.7 L422.7,671.9 L424.6,672.0 L426.4,672.2 L428.3,672.3 L430.1,672.5 L431.9,672.6 L433.8,672.8 L435.6,672.9 L437.5,673.1 L439.3,673.2 L441.1,673.3 L443.0,673.5 L444.8,673.6 L446.7,673.8 L448.5,673.9 L450.3,674.0 L452.2,674.2 L454.0,674.3 L455.9,674.5 L457.7,674.6 L459.6,674.7 L461.4,674.9 L463.2,675.0 L465.1,675.1 L466.9,675.3 L468.8,675.4 L470.6,675.5 L472.5,675.7 L474.3,675.8 L476.1,675.9 L478.0,676.0 L479.8,676.2 L481.7,676.3 L483.5,676.4 L485.4,676.5 L487.2,676.7 L489.0,676.8 L490.9,676.9 L492.7,677.0 L494.6,677.2 L496.4,677.3 L498.3,677.4 L500.1,677.5 L501.9,677.6 L503.8,677.8 L505.6,677.9 L507.5,678.0 L509.3,678.1 L511.2,678.2 L513.0,678.4 L514.8,678.5 L516.7,678.6 L518.5,678.7 L520.4,678.8 L522.2,678.9 L524.1,679.1 L525.9,679.2 L526.8,679.2" stroke="#000000"/>
<path d="M44.7,495.2 L46.5,495.3 L48.4,495.3 L50.2,495.3 L52.1,495.3 L54.0,495.3 L55.8,495.3 L57.7,495.3 L59.5,495.3 L61.4,495.3 L63.3,495.3 L65.1,495.3 L67.0,495.3 L68.8,495.4 L70.7,495.4 L72.6,495.4 L74.4,495.4 L76.3,495.4 L78.1,495.4 L80.0,495.4 L81.9,495.4 L83.7,495.4 L85.6,495.4 L87.5,495.4 L89.3,495.4 L91.2,495.4 L93.1,495.4 L94.9,495.5 L96.8,495.5 L98.7,495.5 L100.5,495.5 L102.4,495.5 L104.3,495.5 L106.1,495.5 L108.0,495.5 L109.9,495.5 L111.7,495.5 L113.6,495.5 L115.5,495.5 L117.3,495.6 L119.2,495.6 L121.1,495.6 L122.9,495.6 L124.8,495.6 L126.6,495.6 L128.5,495.6 L130.4,495.6 L132.2,495.6 L134.1,495.6 L136.0,495.6 L137.8,495.7 L139.7,495.7 L141.6,495.7 L143.4,495.7 L145.3,495.7 L147.2,495.7 L149.0,495.7 L150.9,495.7 L152.8,495.8 L154.6,495.8 L156.5,495.8 L158.4,495.8 L160.2,495.8 L162.1,495.8 L164.0,495.8 L165.8,495.8 L167.7,495.9 L169.5,495.9 L171.4,495.9 L173.3,495.9 L175.1,495.9 L177.0,495.9 L178.9,496.0 L180.7,496.0 L182.6,496.0 L184.4,496.0 L186.3,496.0 L188.2,496.0 L190.0,496.1 L191.9,496.1 L193.7,496.1 L195.6,496.1 L197.4,496.2 L199.3,496.2 L201.2,496.2 L203.0,496.2 L204.9,496.2 L206.7,496.3 L208.6,496.3 L210.4,496.3 L212.3,496.3 L214.1,496.4 L216.0,496.4 L217.8,496.4 L219.7,496.4 L221.6,496.5 L223.4,496.5 L225.3,496.5 L227.1,496.5 L229.0,496.6 L230.8,496.6 L232.7,496.6 L234.5,496.7 L236.4,496.7 L238.2,496.7 L240.1,496.7 L241.9,496.8 L243.8,496.8 L245.6,496.8 L247.5,496.9 L249.3,496.9 L251.2,496.9 L253.0,497.0 L254.9,497.0 L256.7,497.0 L258.6,497.0 L260.5,497.1 L262.3,497.1 L264.2,497.1 L266.0,497.2 L267.9,497.2 L269.7,497.2 L271.6,497.3 L273.4,497.3 L275.3,497.3 L277.2,497.4 L279.0,497.4 L280.9,497.4 L282.7,497.4 L284.6,497.5 L286.5,497.5 L288.3,497.5 L290.2,497.6 L292.0,497.6 L293.9,497.6 L295.8,497.7 L297.6,497.7 L299.5,497.7 L301.4,497.7 L303.2,497.8 L305.1,497.8 L307.0,497.8 L308.8,497.9 L310.7,497.9 L312.6,497.9 L314.5,498.0 L316.3,498.0 L318.2,498.0 L320.1,498.0 L321.9,498.1 L323.8,498.1 L325.7,498.1 L327.6,498.2 L329.4,498.2 L331.3,498.2 L333.2,498.3 L335.1,498.3 L336.9,498.3 L338.8,498.3 L340.7,498.4 L342.6,498.4 L344.4,498.4 L346.3,498.5 L348.2,498.5 L350.0,498.5 L351.9,498.6 L353.8,498.6 L355.7,498.7 L357.5,498.7 L359.4,498.7 L361.3,498.8 L363.1,498.8 L365.0,498.8 L366.9,498.9 L368.7,498.9 L370.6,499.0 L372.5,499.0 L374.3,499.0 L376.2,499.1 L378.1,499.1 L379.9,499.2 L381.8,499.2 L383.6,499.3 L385.5,499.3 L387.3,499.4 L389.2,499.4 L391.1,499.5 L392.9,499.5 L394.8,499.6 L396.6,499.6 L398.5,499.7 L400.3,499.7 L402.1,499.8 L404.0,499.8 L405.8,499.9 L407.7,499.9 L409.5,500.0 L411.3,500.1 L413.2,500.1 L415.0,500.2 L416.8,500.2 L418.7,500.3 L420.5,500.4 L422.3,500.4 L424.1,500.5 L426.0,500.6 L427.8,500.7 L429.6,500.7 L431.4,500.8 L433.2,500.9 L435.0,501.0 L436.8,501.0 L438.6,501.1 L440.4,501.2 L442.2,501.3 L444.0,501.4 L445.8,501.5 L447.6,501.6 L449.4,501.6 L451.2,501.7 L453.0,501.8 L454.8,501.9 L456.5,502.0 L458.3,502.1 L460.1,502.2 L461.9,502.3 L463.7,502.5 L465.5,502.6 L467.3,502.7 L469.2,502.9 L471.1,503.0 L473.0,503.2 L475.0,503.4 L477.0,503.6 L479.1,503.9 L480.7,504.1 L482.3,504.3 L483.9,504.5 L485.6,504.7 L487.4,505.0 L489.1,505.3 L490.9,505.6 L492.6,505.9 L494.5,506.3 L496.1,506.7 L495.8,508.4 L494.2,508.9 L492.1,509.3 L490.4,509.6 L488.6,509.9 L486.8,510.2 L485.1,510.4 L483.4,510.7 L481.7,510.9 L480.1,511.2 L478.5,511.4 L476.4,511.7 L474.4,512.0 L472.4,512.2 L470.5,512.4 L468.6,512.7 L466.8,512.9 L464.9,513.1 L463.1,513.3 L461.4,513.5 L459.6,513.7 L457.8,513.9 L456.1,514.1 L454.3,514.3 L452.5,514.5 L450.7,514.7 L449.0,514.9 L447.2,515.1 L445.4,515.3 L443.6,515.6 L441.8,515.8 L440.0,516.0 L438.2,516.2 L436.4,516.5 L434.6,516.7 L432.7,516.9 L430.9,517.2 L429.1,517.4 L427.3,517.7 L425.4,517.9 L423.6,518.2 L421.8,518.4 L419.9,518.7 L418.1,518.9 L416.2,519.2 L414.4,519.5 L412.6,519.7 L410.7,520.0 L408.9,520.3 L407.0,520.5 L405.2,520.8 L403.3,521.1 L401.4,521.4 L399.6,521.6 L397.7,521.9 L395.9,522.2 L394.0,522.5 L392.2,522.8 L390.3,523.1 L388.5,523.4 L386.6,523.7 L384.8,524.0 L382.9,524.3 L381.0,524.6 L379.2,524.9 L377.3,525.2 L375.5,525.5 L373.6,525.8 L371.8,526.1 L369.9,526.4 L368.0,526.6 L366.2,526.9 L364.3,527.2 L362.5,527.5 L360.6,527.8 L358.8,528.1 L356.9,528.4 L355.1,528.7 L353.2,529.0 L351.4,529.2 L349.5,529.5 L347.7,529.8 L345.8,530.1 L343.9,530.4 L342.1,530.6 L340.2,530.9 L338.4,531.2 L336.5,531.5 L334.7,531.8 L332.8,532.0 L331.0,532.3 L329.1,532.6 L327.3,532.9 L325.4,533.2 L323.6,533.4 L321.7,533.7 L319.9,534.0 L318.0,534.3 L316.2,534.6 L314.3,534.8 L312.5,535.1 L310.7,535.4 L308.8,535.7 L307.0,536.0 L305.1,536.3 L303.3,536.6 L301.4,536.8 L299.6,537.1 L297.7,537.4 L295.9,537.7 L294.0,538.0 L292.2,538.3 L290.4,538.6 L288.5,538.9 L286.7,539.2 L284.8,539.5 L283.0,539.9 L281.2,540.2 L279.3,540.5 L277.5,540.8 L275.6,541.1 L273.8,541.4 L272.0,541.8 L270.1,542.1 L268.3,542.4 L266.4,542.7 L264.6,543.1 L262.8,543.4 L260.9,543.8 L259.1,544.1 L257.3,544.5 L255.4,544.8 L253.6,545.2 L251.8,545.5 L249.9,545.9 L248.1,546.3 L246.3,546.6 L244.4,547.0 L242.6,547.4 L240.8,547.8 L238.9,548.2 L237.1,548.6 L235.3,549.0 L233.4,549.4 L231.6,549.8 L229.8,550.2 L228.0,550.6 L226.1,551.0 L224.3,551.5 L222.5,551.9 L220.6,552.3 L218.8,552.8 L217.0,553.2 L215.2,553.7 L213.3,554.1 L211.5,554.6 L209.7,555.1 L207.9,555.5 L206.1,556.0 L204.2,556.5 L202.4,557.0 L200.6,557.5 L198.8,558.0 L197.0,558.5 L195.2,559.1 L193.3,559.6 L191.5,560.1 L189.7,560.7 L187.9,561.2 L186.1,561.8 L184.3,562.3 L182.5,562.9 L180.7,563.4 L179.0,564.0 L177.2,564.6 L175.4,565.1 L173.6,565.7 L171.9,566.3 L170.1,566.9 L168.3,567.5 L166.6,568.1 L164.9,568.7 L163.1,569.3 L161.4,569.9 L159.7,570.5 L158.0,571.1 L156.3,571.7 L154.6,572.4 L152.9,573.1 L151.2,573.8 L149.5,574.5 L147.9,575.3 L146.2,576.2 L144.6,577.1 L142.9,578.1 L141.3,579.1 L139.7,580.2 L138.1,581.4 L136.5,582.7 L135.0,584.1 L133.5,585.5 L132.0,587.0 L130.7,588.5 L129.5,590.0 L128.3,591.6 L127.4,593.2 L126.6,594.8 L125.9,596.5 L125.5,598.1 L125.2,599.7 L125.2,601.7 L125.6,603.6 L126.2,605.5 L126.9,607.0 L127.8,608.4 L128.8,609.8 L129.9,611.2 L131.2,612.6 L132.5,613.9 L133.9,615.2 L135.4,616.4 L136.9,617.6 L138.4,618.8 L139.9,619.9 L141.5,621.0 L143.0,622.0 L144.6,623.1 L146.2,624.0 L147.8,625.0 L149.4,625.9 L151.0,626.8 L152.7,627.6 L154.3,628.4 L156.0,629.2 L157.6,630.0 L159.3,630.7 L161.0,631.4 L162.7,632.1 L164.4,632.8 L166.1,633.4 L167.8,634.0 L169.6,634.6 L171.3,635.2 L173.0,635.7 L174.8,636.3 L176.5,636.8 L178.3,637.3 L180.1,637.7 L181.8,638.2 L183.6,638.6 L185.4,639.1 L187.2,639.5 L189.0,639.9 L190.8,640.3 L192.5,640.7 L194.3,641.1 L196.1,641.5 L197.9,641.8 L199.7,642.2 L201.5,642.6 L203.4,642.9 L205.2,643.3 L207.0,643.6 L208.8,644.0 L210.6,644.3 L212.4,644.6 L214.2,645.0 L216.0,645.3 L217.8,645.7 L219.6,646.0 L221.4,646.3 L223.2,646.6 L225.0,647.0 L226.9,647.3 L228.7,647.6 L230.5,647.9 L232.3,648.3 L234.1,648.6 L235.9,648.9 L237.7,649.2 L239.5,649.5 L241.3,649.8 L243.2,650.1 L245.0,650.4 L246.8,650.7 L248.6,651.0 L250.4,651.3 L252.2,651.6 L254.0,651.9 L255.9,652.2 L257.7,652.5 L259.5,652.8 L261.3,653.1 L263.1,653.3 L264.9,653.6 L266.8,653.9 L268.6,654.2 L270.4,654.4 L272.2,654.7 L274.0,655.0 L275.9,655.3 L277.7,655.5 L279.5,655.8 L281.3,656.1 L283.1,656.3 L285.0,656.6 L286.8,656.8 L288.6,657.1 L290.4,657.4 L292.2,657.6 L294.1,657.9 L295.9,658.1 L297.7,658.4 L299.5,658.6 L301.4,658.8 L303.2,659.1 L305.0,659.3 L306.8,659.6 L308.6,659.8 L310.5,660.0 L312.3,660.3 L314.1,660.5 L315.9,660.7 L317.8,661.0 L319.6,661.2 L321.4,661.4 L323.3,661.6 L325.1,661.9 L326.9,662.1 L328.7,662.3 L330.6,662.5 L332.4,662.7 L334.2,662.9 L336.0,663.2 L337.9,663.4 L339.7,663.6 L341.5,663.8 L343.4,664.0 L345.2,664.2 L347.0,664.4 L348.8,664.6 L350.7,664.8 L352.5,665.0 L354.3,665.2 L356.2,665.4 L358.0,665.6 L359.8,665.8 L361.7,666.0 L363.5,666.2 L365.3,666.4 L367.2,666.6 L369.0,666.8 L370.8,666.9 L372.6,667.1 L374.5,667.3 L376.3,667.5 L378.1,667.7 L380.0,667.8 L381.8,668.0 L383.6,668.2 L385.5,668.4 L387.3,668.6 L389.1,668.7 L391.0,668.9 L392.8,669.1 L394.7,669.2 L396.5,669.4 L398.3,669.6 L400.2,669.7 L402.0,669.9 L403.8,670.1 L405.7,670.2 L407.5,670.4 L409.3,670.6 L411.2,670.7 L413.0,670.9 L414.8,671.0 L416.7,671.2 L418.5,671.4 L420.4,671.5 L422.2,671.7 L424.0,671.8 L425.9,672.0 L427.7,672.1 L429.5,672.3 L431.4,672.4 L433.2,672.6 L435.1,672.7 L436.9,672.9 L438.7,673.0 L440.6,673.1 L442.4,673.3 L444.2,673.4 L446.1,673.6 L447.9,673.7 L449.8,673.9 L451.6,674.0 L453.4,674.1 L455.3,674.3 L457.1,674.4 L459.0,674.5 L460.8,674.7 L462.6,674.8 L464.5,674.9 L466.3,675.1 L468.2,675.2 L470.0,675.3 L471.8,675.5 L473.7,675.6 L475.5,675.7 L477.4,675.9 L479.2,676.0 L481.0,676.1 L482.9,676.3 L484.7,676.4 L486.6,676.5 L488.4,676.6 L490.2,676.8 L492.1,676.9 L493.9,677.0 L495.8,677.1 L497.6,677.2 L499.4,677.4 L501.3,677.5 L503.1,677.6 L505.0,677.7 L506.8,677.8 L508.6,678.0 L510.5,678.1 L512.3,678.2 L514.2,678.3 L516.0,678.4 L517.9,678.6 L519.7,678.7 L521.5,678.8 L523.4,678.9 L525.2,679.0 L526.6,679.1" stroke="#e3000b" stroke-dasharray="10.5 9.5"/>
<path d="M48.3,497.0 L50.1,497.0 L52.0,497.0 L53.9,497.0 L55.7,497.0 L57.6,497.0 L59.5,497.0 L61.4,497.1 L63.2,497.1 L65.1,497.1 L67.0,497.1 L68.9,497.1 L70.8,497.1 L72.6,497.1 L74.5,497.1 L76.4,497.1 L78.3,497.1 L80.1,497.1 L82.0,497.1 L83.9,497.1 L85.8,497.2 L87.7,497.2 L89.6,497.2 L91.4,497.2 L93.3,497.2 L95.2,497.2 L97.1,497.2 L99.0,497.2 L100.8,497.2 L102.7,497.2 L104.6,497.2 L106.5,497.2 L108.4,497.2 L110.3,497.2 L112.1,497.2 L114.0,497.3 L115.9,497.3 L117.8,497.3 L119.7,497.3 L121.6,497.3 L123.5,497.3 L125.3,497.3 L127.2,497.3 L129.1,497.3 L131.0,497.3 L132.9,497.3 L134.8,497.3 L136.6,497.4 L138.5,497.4 L140.4,497.4 L142.3,497.4 L144.2,497.4 L146.1,497.4 L148.0,497.4 L149.8,497.4 L151.7,497.4 L153.6,497.4 L155.5,497.5 L157.4,497.5 L159.3,497.5 L161.1,497.5 L163.0,497.5 L164.9,497.5 L166.8,497.5 L168.7,497.5 L170.6,497.6 L172.4,497.6 L174.3,497.6 L176.2,497.6 L178.1,497.6 L180.0,497.6 L181.8,497.6 L183.7,497.7 L185.6,497.7 L187.5,497.7 L189.4,497.7 L191.2,497.7 L193.1,497.7 L195.0,497.7 L196.9,497.8 L198.7,497.8 L200.6,497.8 L202.5,497.8 L204.4,497.8 L206.2,497.9 L208.1,497.9 L210.0,497.9 L211.9,497.9 L213.7,497.9 L215.6,498.0 L217.5,498.0 L219.4,498.0 L221.2,498.0 L223.1,498.1 L225.0,498.1 L226.8,498.1 L228.7,498.1 L230.6,498.2 L232.5,498.2 L234.3,498.2 L236.2,498.2 L238.1,498.3 L239.9,498.3 L241.8,498.3 L243.7,498.3 L245.5,498.4 L247.4,498.4 L249.3,498.4 L251.1,498.5 L253.0,498.5 L254.9,498.5 L256.8,498.5 L258.6,498.6 L260.5,498.6 L262.4,498.6 L264.2,498.7 L266.1,498.7 L268.0,498.7 L269.8,498.7 L271.7,498.8 L273.6,498.8 L275.5,498.8 L277.3,498.9 L279.2,498.9 L281.1,498.9 L282.9,498.9 L284.8,499.0 L286.7,499.0 L288.6,499.0 L290.4,499.1 L292.3,499.1 L294.2,499.1 L296.1,499.2 L298.0,499.2 L299.8,499.2 L301.7,499.2 L303.6,499.3 L305.5,499.3 L307.4,499.3 L309.2,499.4 L311.1,499.4 L313.0,499.4 L314.9,499.4 L316.8,499.5 L318.7,499.5 L320.5,499.5 L322.4,499.6 L324.3,499.6 L326.2,499.6 L328.1,499.6 L330.0,499.7 L331.9,499.7 L333.8,499.7 L335.7,499.8 L337.5,499.8 L339.4,499.8 L341.3,499.8 L343.2,499.9 L345.1,499.9 L347.0,499.9 L348.9,500.0 L350.8,500.0 L352.7,500.0 L354.6,500.1 L356.4,500.1 L358.3,500.1 L360.2,500.2 L362.1,500.2 L364.0,500.2 L365.9,500.3 L367.8,500.3 L369.7,500.3 L371.6,500.4 L373.4,500.4 L375.3,500.4 L377.2,500.5 L379.1,500.5 L381.0,500.5 L382.9,500.6 L384.7,500.6 L386.6,500.7 L388.5,500.7 L390.4,500.7 L392.3,500.8 L394.1,500.8 L396.0,500.9 L397.9,500.9 L399.8,501.0 L401.6,501.0 L403.5,501.0 L405.4,501.1 L407.2,501.1 L409.1,501.2 L411.0,501.2 L412.8,501.3 L414.7,501.3 L416.5,501.4 L418.4,501.5 L420.3,501.5 L422.1,501.6 L424.0,501.6 L425.8,501.7 L427.7,501.7 L429.5,501.8 L431.3,501.9 L433.2,501.9 L435.0,502.0 L436.9,502.1 L438.7,502.1 L440.5,502.2 L442.4,502.3 L444.2,502.3 L446.0,502.4 L447.9,502.5 L449.7,502.6 L451.5,502.6 L453.3,502.7 L455.1,502.8 L456.9,502.9 L458.7,503.0 L460.5,503.1 L462.3,503.1 L464.2,503.2 L465.9,503.3 L467.7,503.4 L469.5,503.5 L471.3,503.6 L473.1,503.7 L474.9,503.8 L476.7,503.9 L478.5,504.0 L480.4,504.1 L482.2,504.3 L484.1,504.4 L486.0,504.6 L488.0,504.8 L490.0,505.0 L492.1,505.2 L494.2,505.5 L495.8,505.7 L497.4,505.9 L499.1,506.1 L500.8,506.3 L502.6,506.6 L504.4,506.9 L506.1,507.2 L507.7,507.5 L509.4,507.9 L511.1,508.5 L509.8,509.7 L508.1,510.2 L506.0,510.6 L504.3,510.9 L502.4,511.2 L500.6,511.4 L498.8,511.7 L497.1,512.0 L495.4,512.2 L493.8,512.4 L492.1,512.7 L490.0,512.9 L488.0,513.2 L486.0,513.4 L484.0,513.7 L482.1,513.9 L480.3,514.1 L478.4,514.3 L476.6,514.5 L474.8,514.7 L473.0,514.9 L471.2,515.1 L469.4,515.3 L467.6,515.5 L465.8,515.7 L464.0,515.9 L462.2,516.1 L460.4,516.3 L458.6,516.5 L456.7,516.7 L454.9,517.0 L453.1,517.2 L451.2,517.4 L449.4,517.6 L447.6,517.9 L445.7,518.1 L443.9,518.3 L442.0,518.6 L440.2,518.8 L438.3,519.1 L436.4,519.3 L434.6,519.6 L432.7,519.8 L430.8,520.1 L429.0,520.3 L427.1,520.6 L425.2,520.8 L423.3,521.1 L421.5,521.4 L419.6,521.6 L417.7,521.9 L415.8,522.2 L413.9,522.4 L412.1,522.7 L410.2,523.0 L408.3,523.3 L406.4,523.6 L404.5,523.9 L402.6,524.1 L400.7,524.4 L398.9,524.7 L397.0,525.0 L395.1,525.3 L393.2,525.6 L391.3,525.9 L389.4,526.2 L387.5,526.5 L385.7,526.8 L383.8,527.1 L381.9,527.4 L380.0,527.7 L378.1,527.9 L376.2,528.2 L374.4,528.5 L372.5,528.8 L370.6,529.1 L368.7,529.4 L366.8,529.7 L364.9,529.9 L363.1,530.2 L361.2,530.5 L359.3,530.8 L357.4,531.1 L355.5,531.3 L353.6,531.6 L351.8,531.9 L349.9,532.2 L348.0,532.4 L346.1,532.7 L344.3,533.0 L342.4,533.3 L340.5,533.5 L338.6,533.8 L336.7,534.1 L334.9,534.4 L333.0,534.7 L331.1,534.9 L329.2,535.2 L327.4,535.5 L325.5,535.8 L323.6,536.1 L321.7,536.3 L319.9,536.6 L318.0,536.9 L316.1,537.2 L314.2,537.5 L312.4,537.8 L310.5,538.0 L308.6,538.3 L306.7,538.6 L304.9,538.9 L303.0,539.2 L301.1,539.5 L299.3,539.8 L297.4,540.1 L295.5,540.4 L293.7,540.7 L291.8,541.0 L289.9,541.4 L288.0,541.7 L286.2,542.0 L284.3,542.3 L282.4,542.6 L280.6,542.9 L278.7,543.3 L276.8,543.6 L275.0,543.9 L273.1,544.3 L271.2,544.6 L269.4,545.0 L267.5,545.3 L265.6,545.7 L263.8,546.0 L261.9,546.4 L260.1,546.7 L258.2,547.1 L256.3,547.5 L254.5,547.8 L252.6,548.2 L250.7,548.6 L248.9,549.0 L247.0,549.4 L245.2,549.8 L243.3,550.2 L241.4,550.6 L239.6,551.0 L237.7,551.4 L235.9,551.8 L234.0,552.2 L232.1,552.7 L230.3,553.1 L228.4,553.5 L226.6,554.0 L224.7,554.4 L222.9,554.9 L221.0,555.3 L219.1,555.8 L217.3,556.3 L215.4,556.7 L213.6,557.2 L211.7,557.7 L209.9,558.2 L208.0,558.8 L206.2,559.3 L204.3,559.8 L202.5,560.3 L200.6,560.8 L198.8,561.4 L197.0,561.9 L195.1,562.5 L193.3,563.0 L191.5,563.6 L189.6,564.1 L187.8,564.7 L186.0,565.3 L184.2,565.9 L182.4,566.4 L180.6,567.0 L178.8,567.6 L177.0,568.2 L175.2,568.8 L173.4,569.4 L171.7,570.0 L169.9,570.6 L168.1,571.2 L166.4,571.8 L164.7,572.4 L162.9,573.1 L161.2,573.8 L159.5,574.5 L157.8,575.2 L156.1,576.0 L154.4,576.9 L152.7,577.8 L151.0,578.8 L149.3,579.8 L147.7,580.9 L146.0,582.1 L144.4,583.4 L142.7,584.8 L141.2,586.2 L139.7,587.7 L138.3,589.2 L137.0,590.7 L135.8,592.3 L134.8,593.9 L133.9,595.5 L133.2,597.2 L132.7,598.8 L132.4,600.4 L132.3,602.4 L132.6,604.3 L133.2,606.2 L133.8,607.7 L134.7,609.1 L135.6,610.5 L136.7,611.9 L137.9,613.3 L139.2,614.6 L140.6,615.9 L142.0,617.1 L143.5,618.3 L145.0,619.5 L146.5,620.6 L148.0,621.7 L149.5,622.7 L151.1,623.8 L152.6,624.7 L154.2,625.7 L155.8,626.6 L157.4,627.5 L159.0,628.3 L160.6,629.1 L162.3,629.9 L163.9,630.7 L165.6,631.4 L167.2,632.1 L168.9,632.8 L170.6,633.5 L172.3,634.1 L174.0,634.7 L175.7,635.3 L177.4,635.9 L179.2,636.4 L180.9,636.9 L182.6,637.4 L184.4,637.9 L186.2,638.4 L187.9,638.9 L189.7,639.3 L191.5,639.8 L193.2,640.2 L195.0,640.6 L196.8,641.0 L198.6,641.4 L200.4,641.8 L202.2,642.1 L204.0,642.5 L205.8,642.9 L207.6,643.2 L209.4,643.6 L211.2,643.9 L213.0,644.3 L214.8,644.6 L216.6,645.0 L218.4,645.3 L220.2,645.6 L222.0,646.0 L223.8,646.3 L225.6,646.6 L227.4,647.0 L229.2,647.3 L231.0,647.6 L232.8,647.9 L234.6,648.3 L236.4,648.6 L238.2,648.9 L240.0,649.2 L241.9,649.5 L243.7,649.8 L245.5,650.1 L247.3,650.4 L249.1,650.8 L250.9,651.1 L252.7,651.4 L254.5,651.7 L256.3,651.9 L258.1,652.2 L260.0,652.5 L261.8,652.8 L263.6,653.1 L265.4,653.4 L267.2,653.7 L269.0,654.0 L270.8,654.2 L272.7,654.5 L274.5,654.8 L276.3,655.1 L278.1,655.3 L279.9,655.6 L281.7,655.9 L283.6,656.1 L285.4,656.4 L287.2,656.7 L289.0,656.9 L290.8,657.2 L292.6,657.4 L294.5,657.7 L296.3,657.9 L298.1,658.2 L299.9,658.4 L301.7,658.7 L303.6,658.9 L305.4,659.2 L307.2,659.4 L309.0,659.7 L310.8,659.9 L312.7,660.1 L314.5,660.4 L316.3,660.6 L318.1,660.8 L320.0,661.1 L321.8,661.3 L323.6,661.5 L325.4,661.8 L327.3,662.0 L329.1,662.2 L330.9,662.4 L332.7,662.6 L334.6,662.9 L336.4,663.1 L338.2,663.3 L340.0,663.5 L341.9,663.7 L343.7,663.9 L345.5,664.1 L347.4,664.3 L349.2,664.6 L351.0,664.8 L352.8,665.0 L354.7,665.2 L356.5,665.4 L358.3,665.6 L360.2,665.8 L362.0,665.9 L363.8,666.1 L365.6,666.3 L367.5,666.5 L369.3,666.7 L371.1,666.9 L373.0,667.1 L374.8,667.3 L376.6,667.5 L378.5,667.6 L380.3,667.8 L382.1,668.0 L384.0,668.2 L385.8,668.4 L387.6,668.5 L389.5,668.7 L391.3,668.9 L393.1,669.1 L395.0,669.2 L396.8,669.4 L398.6,669.6 L400.5,669.8 L402.3,669.9 L404.1,670.1 L406.0,670.3 L407.8,670.4 L409.6,670.6 L411.5,670.7 L413.3,670.9 L415.2,671.1 L417.0,671.2 L418.8,671.4 L420.7,671.5 L422.5,671.7 L424.3,671.9 L426.2,672.0 L428.0,672.2 L429.9,672.3 L431.7,672.5 L433.5,672.6 L435.4,672.8 L437.2,672.9 L439.0,673.1 L440.9,673.2 L442.7,673.3 L444.6,673.5 L446.4,673.6 L448.2,673.8 L450.1,673.9 L451.9,674.1 L453.8,674.2 L455.6,674.3 L457.4,674.5 L459.3,674.6 L461.1,674.8 L463.0,674.9 L464.8,675.0 L466.6,675.2 L468.5,675.3 L470.3,675.4 L472.2,675.6 L474.0,675.7 L475.8,675.8 L477.7,675.9 L479.5,676.1 L481.4,676.2 L483.2,676.3 L485.0,676.5 L486.9,676.6 L488.7,676.7 L490.6,676.8 L492.4,677.0 L494.3,677.1 L496.1,677.2 L497.9,677.3 L499.8,677.5 L501.6,677.6 L503.5,677.7 L505.3,677.8 L507.2,677.9 L509.0,678.1 L510.8,678.2 L512.7,678.3 L514.5,678.4 L516.4,678.5 L518.2,678.7 L520.1,678.8 L521.9,678.9 L523.7,679.0 L525.6,679.1 L527.0,679.2" stroke="#1515b0" stroke-dasharray="3.8 8.6"/>
</g>
<rect x="64.25" y="477.75" width="442.75" height="218.04999999999995" fill="none" stroke="#000" stroke-width="3"/>
<path d="M84.37,695.8v-4.6M84.37,477.75v4.6M104.50,695.8v-7.8M104.50,477.75v7.8M124.62,695.8v-4.6M124.62,477.75v4.6M144.75,695.8v-7.8M144.75,477.75v7.8M164.88,695.8v-4.6M164.88,477.75v4.6M185.00,695.8v-7.8M185.00,477.75v7.8M205.13,695.8v-4.6M205.13,477.75v4.6M225.25,695.8v-7.8M225.25,477.75v7.8M245.38,695.8v-4.6M245.38,477.75v4.6M265.50,695.8v-7.8M265.50,477.75v7.8M285.63,695.8v-4.6M285.63,477.75v4.6M305.75,695.8v-7.8M305.75,477.75v7.8M325.87,695.8v-4.6M325.87,477.75v4.6M346.00,695.8v-7.8M346.00,477.75v7.8M366.12,695.8v-4.6M366.12,477.75v4.6M386.25,695.8v-7.8M386.25,477.75v7.8M406.38,695.8v-4.6M406.38,477.75v4.6M426.50,695.8v-7.8M426.50,477.75v7.8M446.63,695.8v-4.6M446.63,477.75v4.6M466.75,695.8v-7.8M466.75,477.75v7.8M486.88,695.8v-4.6M486.88,477.75v4.6M64.25,641.29h4.6M507.0,641.29h-4.6M64.25,586.77h7.8M507.0,586.77h-7.8M64.25,532.26h4.6M507.0,532.26h-4.6" stroke="#000" stroke-width="2.8" fill="none"/>
<text transform="translate(57.30,700.40) scale(1.03,1)" text-anchor="end" style="font-family:'Liberation Sans',Arial,sans-serif;font-weight:bold;font-size:18.6px">0.0</text>
<text transform="translate(57.30,591.38) scale(1.03,1)" text-anchor="end" style="font-family:'Liberation Sans',Arial,sans-serif;font-weight:bold;font-size:18.6px">0.5</text>
<text transform="translate(57.30,482.35) scale(1.03,1)" text-anchor="end" style="font-family:'Liberation Sans',Arial,sans-serif;font-weight:bold;font-size:18.6px">1.0</text>
<text transform="translate(18.0,591.08) rotate(-90)" text-anchor="middle" style="font-family:'Liberation Sans',Arial,sans-serif;font-weight:bold;font-size:25.6px">R</text>
<text x="76.5" y="525.0" style="font-family:'Liberation Sans',Arial,sans-serif;font-weight:bold;font-size:24px">(c)</text>
<text transform="translate(64.25,717.30) scale(1.03,1)" text-anchor="middle" style="font-family:'Liberation Sans',Arial,sans-serif;font-weight:bold;font-size:18.6px">5.2</text>
<text transform="translate(104.50,717.30) scale(1.03,1)" text-anchor="middle" style="font-family:'Liberation Sans',Arial,sans-serif;font-weight:bold;font-size:18.6px">5.4</text>
<text transform="translate(144.75,717.30) scale(1.03,1)" text-anchor="middle" style="font-family:'Liberation Sans',Arial,sans-serif;font-weight:bold;font-size:18.6px">5.6</text>
<text transform="translate(185.00,717.30) scale(1.03,1)" text-anchor="middle" style="font-family:'Liberation Sans',Arial,sans-serif;font-weight:bold;font-size:18.6px">5.8</text>
<text transform="translate(225.25,717.30) scale(1.03,1)" text-anchor="middle" style="font-family:'Liberation Sans',Arial,sans-serif;font-weight:bold;font-size:18.6px">6.0</text>
<text transform="translate(265.50,717.30) scale(1.03,1)" text-anchor="middle" style="font-family:'Liberation Sans',Arial,sans-serif;font-weight:bold;font-size:18.6px">6.2</text>
<text transform="translate(305.75,717.30) scale(1.03,1)" text-anchor="middle" style="font-family:'Liberation Sans',Arial,sans-serif;font-weight:bold;font-size:18.6px">6.4</text>
<text transform="translate(346.00,717.30) scale(1.03,1)" text-anchor="middle" style="font-family:'Liberation Sans',Arial,sans-serif;font-weight:bold;font-size:18.6px">6.6</text>
<text transform="translate(386.25,717.30) scale(1.03,1)" text-anchor="middle" style="font-family:'Liberation Sans',Arial,sans-serif;font-weight:bold;font-size:18.6px">6.8</text>
<text transform="translate(426.50,717.30) scale(1.03,1)" text-anchor="middle" style="font-family:'Liberation Sans',Arial,sans-serif;font-weight:bold;font-size:18.6px">7.0</text>
<text transform="translate(466.75,717.30) scale(1.03,1)" text-anchor="middle" style="font-family:'Liberation Sans',Arial,sans-serif;font-weight:bold;font-size:18.6px">7.2</text>
<text transform="translate(507.00,717.30) scale(1.03,1)" text-anchor="middle" style="font-family:'Liberation Sans',Arial,sans-serif;font-weight:bold;font-size:18.6px">7.4</text>
<text x="218.9" y="746.5" style="font-family:'Liberation Serif','Times New Roman',serif;font-weight:bold;font-size:24.5px">I</text>
<text x="228.6" y="755.8" style="font-family:'Liberation Serif','Times New Roman',serif;font-weight:bold;font-size:14.5px">in</text>
<text transform="translate(240.2,746.5) scale(1.022,1)" style="font-family:'Liberation Serif','Times New Roman',serif;font-weight:bold;font-size:24.5px">(MW/cm</text>
<text x="337.6" y="732.4" style="font-family:'Liberation Serif','Times New Roman',serif;font-weight:bold;font-size:12px">2</text>
<text x="344.0" y="746.5" style="font-family:'Liberation Serif','Times New Roman',serif;font-weight:bold;font-size:24.5px">)</text>
<rect x="360.5" y="64.5" width="135.0" height="115.0" fill="#000"/><rect x="355.5" y="59.5" width="135.0" height="115.0" fill="#fff" stroke="#8a8a8a" stroke-width="1"/><path d="M355.5,69.8H392.5" stroke="#000000" stroke-width="2.5"/><text transform="translate(395.20,74.80) scale(1.11,1)" style="font-family:'Liberation Sans',Arial,sans-serif;font-size:14.0px">w/o graphene</text><path d="M355.5,88.9H392.5" stroke="#e3000b" stroke-width="2.5" stroke-dasharray="10.5 9.5"/><text transform="translate(395.20,93.80) scale(1.11,1)" style="font-family:'Liberation Sans',Arial,sans-serif;font-size:14.0px">E<tspan dy="5.5" style="font-size:9px">F</tspan><tspan dy="-5.5">=0.2eV</tspan></text><path d="M355.5,113.2H392.5" stroke="#1515b0" stroke-width="2.5" stroke-dasharray="3.8 8.6"/><text transform="translate(395.20,118.20) scale(1.11,1)" style="font-family:'Liberation Sans',Arial,sans-serif;font-size:14.0px">E<tspan dy="5.5" style="font-size:9px">F</tspan><tspan dy="-5.5">=0.3eV</tspan></text><path d="M355.5,137.6H392.5" stroke="#138071" stroke-width="2.5" stroke-dasharray="12 5 3.5 5"/><text transform="translate(395.20,142.60) scale(1.11,1)" style="font-family:'Liberation Sans',Arial,sans-serif;font-size:14.0px">E<tspan dy="5.5" style="font-size:9px">F</tspan><tspan dy="-5.5">=0.8eV</tspan></text><path d="M355.5,161.5H392.5" stroke="#da18d2" stroke-width="2.5" stroke-dasharray="9.6 5.2 3.2 4.8 3.2 4.8"/><text transform="translate(395.20,166.80) scale(1.11,1)" style="font-family:'Liberation Sans',Arial,sans-serif;font-size:14.0px">E<tspan dy="5.5" style="font-size:9px">F</tspan><tspan dy="-5.5">=1.2eV</tspan></text>
<rect x="425.5" y="311.3" width="71.5" height="75.80000000000001" fill="#000"/><rect x="420.5" y="306.3" width="71.5" height="75.80000000000001" fill="#fff" stroke="#8a8a8a" stroke-width="1"/><path d="M420.5,315.9H457.5" stroke="#000000" stroke-width="2.5"/><text transform="translate(461.50,321.00) scale(1.11,1)" style="font-family:'Liberation Sans',Arial,sans-serif;font-size:14.0px">N=0</text><path d="M420.5,334.9H457.5" stroke="#e3000b" stroke-width="2.5" stroke-dasharray="10.5 9.5"/><text transform="translate(461.50,340.20) scale(1.11,1)" style="font-family:'Liberation Sans',Arial,sans-serif;font-size:14.0px">N=2</text><path d="M420.5,354.6H457.5" stroke="#1515b0" stroke-width="2.5" stroke-dasharray="3.8 8.6"/><text transform="translate(461.50,359.80) scale(1.11,1)" style="font-family:'Liberation Sans',Arial,sans-serif;font-size:14.0px">N=4</text><path d="M420.5,373.6H457.5" stroke="#138071" stroke-width="2.5" stroke-dasharray="12 5 3.5 5"/><text transform="translate(461.50,378.80) scale(1.11,1)" style="font-family:'Liberation Sans',Arial,sans-serif;font-size:14.0px">N=6</text>
<rect x="403.5" y="556.9" width="94.89999999999998" height="58.200000000000045" fill="#000"/><rect x="398.5" y="551.9" width="94.89999999999998" height="58.200000000000045" fill="#fff" stroke="#8a8a8a" stroke-width="1"/><path d="M398.5,561.6H435.5" stroke="#000000" stroke-width="2.5"/><text transform="translate(439.80,567.60) scale(1.11,1)" style="font-family:'Liberation Sans',Arial,sans-serif;font-size:14.0px"><tspan style="font-family:'Liberation Serif',serif;font-size:15px">τ</tspan>=500fs</text><path d="M398.5,581.2H435.5" stroke="#e3000b" stroke-width="2.5" stroke-dasharray="10.5 9.5"/><text transform="translate(439.80,586.40) scale(1.11,1)" style="font-family:'Liberation Sans',Arial,sans-serif;font-size:14.0px"><tspan style="font-family:'Liberation Serif',serif;font-size:15px">τ</tspan>=50fs</text><path d="M398.5,600.4H435.5" stroke="#1515b0" stroke-width="2.5" stroke-dasharray="3.8 8.6"/><text transform="translate(439.80,605.70) scale(1.11,1)" style="font-family:'Liberation Sans',Arial,sans-serif;font-size:14.0px"><tspan style="font-family:'Liberation Serif',serif;font-size:15px">τ</tspan>=20fs</text>
</svg></body></html>
